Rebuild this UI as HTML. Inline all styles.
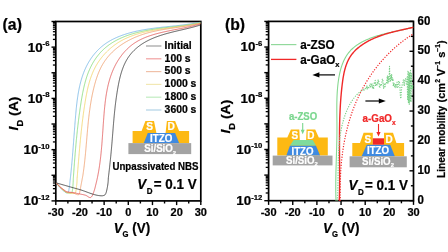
<!DOCTYPE html>
<html><head><meta charset="utf-8"><title>Figure</title>
<style>
html,body{margin:0;padding:0;background:#fff;}
body{width:448px;height:252px;overflow:hidden;}
svg{display:block;font-family:"Liberation Sans", sans-serif;font-weight:bold;}
text{stroke-width:0.22px;}
</style></head><body>
<svg width="448" height="252" viewBox="0 0 448 252">
<rect width="448" height="252" fill="#fff"/>
<rect x="55.8" y="21.5" width="145.0" height="179.4" fill="none" stroke="#000" stroke-width="1.7"/>
<line x1="55.80" y1="200.9" x2="55.80" y2="205.1" stroke="#000" stroke-width="1.4"/>
<line x1="67.88" y1="200.9" x2="67.88" y2="203.5" stroke="#000" stroke-width="1.4"/>
<line x1="79.97" y1="200.9" x2="79.97" y2="205.1" stroke="#000" stroke-width="1.4"/>
<line x1="92.05" y1="200.9" x2="92.05" y2="203.5" stroke="#000" stroke-width="1.4"/>
<line x1="104.13" y1="200.9" x2="104.13" y2="205.1" stroke="#000" stroke-width="1.4"/>
<line x1="116.22" y1="200.9" x2="116.22" y2="203.5" stroke="#000" stroke-width="1.4"/>
<line x1="128.30" y1="200.9" x2="128.30" y2="205.1" stroke="#000" stroke-width="1.4"/>
<line x1="140.38" y1="200.9" x2="140.38" y2="203.5" stroke="#000" stroke-width="1.4"/>
<line x1="152.47" y1="200.9" x2="152.47" y2="205.1" stroke="#000" stroke-width="1.4"/>
<line x1="164.55" y1="200.9" x2="164.55" y2="203.5" stroke="#000" stroke-width="1.4"/>
<line x1="176.63" y1="200.9" x2="176.63" y2="205.1" stroke="#000" stroke-width="1.4"/>
<line x1="188.72" y1="200.9" x2="188.72" y2="203.5" stroke="#000" stroke-width="1.4"/>
<line x1="200.80" y1="200.9" x2="200.80" y2="205.1" stroke="#000" stroke-width="1.4"/>
<line x1="55.8" y1="200.90" x2="51.5" y2="200.90" stroke="#000" stroke-width="1.4"/>
<line x1="55.8" y1="193.19" x2="52.9" y2="193.19" stroke="#000" stroke-width="1.3"/>
<line x1="55.8" y1="188.67" x2="52.9" y2="188.67" stroke="#000" stroke-width="1.3"/>
<line x1="55.8" y1="185.47" x2="52.9" y2="185.47" stroke="#000" stroke-width="1.3"/>
<line x1="55.8" y1="182.99" x2="52.9" y2="182.99" stroke="#000" stroke-width="1.3"/>
<line x1="55.8" y1="180.96" x2="52.9" y2="180.96" stroke="#000" stroke-width="1.3"/>
<line x1="55.8" y1="179.24" x2="52.9" y2="179.24" stroke="#000" stroke-width="1.3"/>
<line x1="55.8" y1="177.76" x2="52.9" y2="177.76" stroke="#000" stroke-width="1.3"/>
<line x1="55.8" y1="176.44" x2="52.9" y2="176.44" stroke="#000" stroke-width="1.3"/>
<line x1="55.8" y1="175.27" x2="51.5" y2="175.27" stroke="#000" stroke-width="1.4"/>
<line x1="55.8" y1="167.56" x2="52.9" y2="167.56" stroke="#000" stroke-width="1.3"/>
<line x1="55.8" y1="163.04" x2="52.9" y2="163.04" stroke="#000" stroke-width="1.3"/>
<line x1="55.8" y1="159.84" x2="52.9" y2="159.84" stroke="#000" stroke-width="1.3"/>
<line x1="55.8" y1="157.36" x2="52.9" y2="157.36" stroke="#000" stroke-width="1.3"/>
<line x1="55.8" y1="155.33" x2="52.9" y2="155.33" stroke="#000" stroke-width="1.3"/>
<line x1="55.8" y1="153.61" x2="52.9" y2="153.61" stroke="#000" stroke-width="1.3"/>
<line x1="55.8" y1="152.13" x2="52.9" y2="152.13" stroke="#000" stroke-width="1.3"/>
<line x1="55.8" y1="150.82" x2="52.9" y2="150.82" stroke="#000" stroke-width="1.3"/>
<line x1="55.8" y1="149.64" x2="51.5" y2="149.64" stroke="#000" stroke-width="1.4"/>
<line x1="55.8" y1="141.93" x2="52.9" y2="141.93" stroke="#000" stroke-width="1.3"/>
<line x1="55.8" y1="137.41" x2="52.9" y2="137.41" stroke="#000" stroke-width="1.3"/>
<line x1="55.8" y1="134.21" x2="52.9" y2="134.21" stroke="#000" stroke-width="1.3"/>
<line x1="55.8" y1="131.73" x2="52.9" y2="131.73" stroke="#000" stroke-width="1.3"/>
<line x1="55.8" y1="129.70" x2="52.9" y2="129.70" stroke="#000" stroke-width="1.3"/>
<line x1="55.8" y1="127.98" x2="52.9" y2="127.98" stroke="#000" stroke-width="1.3"/>
<line x1="55.8" y1="126.50" x2="52.9" y2="126.50" stroke="#000" stroke-width="1.3"/>
<line x1="55.8" y1="125.19" x2="52.9" y2="125.19" stroke="#000" stroke-width="1.3"/>
<line x1="55.8" y1="124.01" x2="51.5" y2="124.01" stroke="#000" stroke-width="1.4"/>
<line x1="55.8" y1="116.30" x2="52.9" y2="116.30" stroke="#000" stroke-width="1.3"/>
<line x1="55.8" y1="111.79" x2="52.9" y2="111.79" stroke="#000" stroke-width="1.3"/>
<line x1="55.8" y1="108.58" x2="52.9" y2="108.58" stroke="#000" stroke-width="1.3"/>
<line x1="55.8" y1="106.10" x2="52.9" y2="106.10" stroke="#000" stroke-width="1.3"/>
<line x1="55.8" y1="104.07" x2="52.9" y2="104.07" stroke="#000" stroke-width="1.3"/>
<line x1="55.8" y1="102.36" x2="52.9" y2="102.36" stroke="#000" stroke-width="1.3"/>
<line x1="55.8" y1="100.87" x2="52.9" y2="100.87" stroke="#000" stroke-width="1.3"/>
<line x1="55.8" y1="99.56" x2="52.9" y2="99.56" stroke="#000" stroke-width="1.3"/>
<line x1="55.8" y1="98.39" x2="51.5" y2="98.39" stroke="#000" stroke-width="1.4"/>
<line x1="55.8" y1="90.67" x2="52.9" y2="90.67" stroke="#000" stroke-width="1.3"/>
<line x1="55.8" y1="86.16" x2="52.9" y2="86.16" stroke="#000" stroke-width="1.3"/>
<line x1="55.8" y1="82.96" x2="52.9" y2="82.96" stroke="#000" stroke-width="1.3"/>
<line x1="55.8" y1="80.47" x2="52.9" y2="80.47" stroke="#000" stroke-width="1.3"/>
<line x1="55.8" y1="78.44" x2="52.9" y2="78.44" stroke="#000" stroke-width="1.3"/>
<line x1="55.8" y1="76.73" x2="52.9" y2="76.73" stroke="#000" stroke-width="1.3"/>
<line x1="55.8" y1="75.24" x2="52.9" y2="75.24" stroke="#000" stroke-width="1.3"/>
<line x1="55.8" y1="73.93" x2="52.9" y2="73.93" stroke="#000" stroke-width="1.3"/>
<line x1="55.8" y1="72.76" x2="51.5" y2="72.76" stroke="#000" stroke-width="1.4"/>
<line x1="55.8" y1="65.04" x2="52.9" y2="65.04" stroke="#000" stroke-width="1.3"/>
<line x1="55.8" y1="60.53" x2="52.9" y2="60.53" stroke="#000" stroke-width="1.3"/>
<line x1="55.8" y1="57.33" x2="52.9" y2="57.33" stroke="#000" stroke-width="1.3"/>
<line x1="55.8" y1="54.84" x2="52.9" y2="54.84" stroke="#000" stroke-width="1.3"/>
<line x1="55.8" y1="52.81" x2="52.9" y2="52.81" stroke="#000" stroke-width="1.3"/>
<line x1="55.8" y1="51.10" x2="52.9" y2="51.10" stroke="#000" stroke-width="1.3"/>
<line x1="55.8" y1="49.61" x2="52.9" y2="49.61" stroke="#000" stroke-width="1.3"/>
<line x1="55.8" y1="48.30" x2="52.9" y2="48.30" stroke="#000" stroke-width="1.3"/>
<line x1="55.8" y1="47.13" x2="51.5" y2="47.13" stroke="#000" stroke-width="1.4"/>
<line x1="55.8" y1="39.41" x2="52.9" y2="39.41" stroke="#000" stroke-width="1.3"/>
<line x1="55.8" y1="34.90" x2="52.9" y2="34.90" stroke="#000" stroke-width="1.3"/>
<line x1="55.8" y1="31.70" x2="52.9" y2="31.70" stroke="#000" stroke-width="1.3"/>
<line x1="55.8" y1="29.21" x2="52.9" y2="29.21" stroke="#000" stroke-width="1.3"/>
<line x1="55.8" y1="27.19" x2="52.9" y2="27.19" stroke="#000" stroke-width="1.3"/>
<line x1="55.8" y1="25.47" x2="52.9" y2="25.47" stroke="#000" stroke-width="1.3"/>
<line x1="55.8" y1="23.98" x2="52.9" y2="23.98" stroke="#000" stroke-width="1.3"/>
<line x1="55.8" y1="22.67" x2="52.9" y2="22.67" stroke="#000" stroke-width="1.3"/>
<line x1="55.8" y1="21.50" x2="51.5" y2="21.50" stroke="#000" stroke-width="1.4"/>
<clipPath id="ca"><rect x="55.8" y="21.5" width="145.0" height="179.4"/></clipPath>
<g clip-path="url(#ca)" fill="none" stroke-width="0.85" stroke-linejoin="round">
<path d="M56.30,182.90 L56.49,183.16 L56.68,183.42 L56.87,183.68 L57.07,183.94 L57.27,184.19 L57.46,184.45 L57.66,184.70 L57.86,184.95 L58.07,185.20 L58.27,185.45 L58.48,185.70 L58.68,185.94 L58.89,186.18 L59.10,186.43 L59.32,186.67 L59.53,186.91 L59.74,187.14 L59.96,187.38 L60.18,187.62 L60.39,187.85 L60.61,188.09 L60.83,188.32 L61.05,188.56 L61.27,188.80 L61.50,189.04 L61.72,189.28 L61.95,189.51 L62.18,189.74 L62.41,189.97 L62.65,190.19 L62.89,190.41 L63.13,190.61 L63.37,190.81 L63.63,191.01 L63.88,191.19 L64.14,191.36 L64.41,191.54 L64.69,191.74 L64.97,191.93 L65.26,192.11 L65.55,192.28 L65.85,192.43 L66.15,192.55 L66.45,192.64 L66.74,192.69 L67.04,192.69 L67.39,192.62 L67.73,192.50 L68.03,192.34 L68.22,192.18 L68.35,191.98 L68.46,191.74 L68.56,191.45 L68.64,191.13 L68.72,190.78 L68.79,190.43 L68.85,190.07 L68.91,189.71 L68.97,189.37 L69.03,189.05 L69.08,188.74 L69.14,188.43 L69.19,188.11 L69.25,187.80 L69.30,187.48 L69.35,187.16 L69.40,186.85 L69.45,186.53 L69.49,186.21 L69.54,185.89 L69.58,185.57 L69.62,185.25 L69.65,184.93 L69.69,184.61 L69.72,184.29 L69.74,183.97 L69.77,183.65 L69.78,183.32 L69.80,183.00 L69.86,182.47 L69.96,181.63 L70.06,180.79 L70.16,179.95 L70.26,179.11 L70.35,178.27 L70.44,177.43 L70.54,176.60 L70.63,175.76 L70.72,174.92 L70.81,174.09 L70.89,173.25 L70.98,172.41 L71.06,171.58 L71.15,170.74 L71.23,169.91 L71.31,169.08 L71.39,168.24 L71.47,167.41 L71.55,166.57 L71.63,165.74 L71.71,164.91 L71.78,164.07 L71.86,163.24 L71.93,162.41 L72.01,161.58 L72.08,160.74 L72.15,159.91 L72.22,159.08 L72.29,158.25 L72.36,157.41 L72.43,156.58 L72.50,155.75 L72.57,154.92 L72.64,154.08 L72.70,153.25 L72.77,152.42 L72.84,151.58 L72.90,150.75 L72.97,149.92 L73.03,149.08 L73.10,148.25 L73.16,147.42 L73.22,146.58 L73.29,145.75 L73.35,144.91 L73.42,144.08 L73.48,143.24 L73.54,142.40 L73.60,141.57 L73.67,140.73 L73.73,139.89 L73.79,139.06 L73.85,138.22 L73.92,137.38 L73.98,136.54 L74.04,135.70 L74.11,134.86 L74.17,134.02 L74.23,133.18 L74.29,132.34 L74.36,131.50 L74.42,130.65 L74.49,129.81 L74.55,128.97 L74.61,128.12 L74.68,127.28 L74.75,126.43 L74.81,125.58 L74.88,124.73 L74.94,123.89 L75.01,123.04 L75.08,122.19 L75.15,121.33 L75.22,120.48 L75.29,119.63 L75.36,118.78 L75.43,117.92 L75.50,117.07 L75.57,116.21 L75.64,115.35 L75.72,114.49 L75.79,113.63 L75.87,112.78 L75.95,111.92 L76.03,111.06 L76.11,110.19 L76.19,109.33 L76.28,108.47 L76.36,107.61 L76.45,106.75 L76.54,105.89 L76.64,105.03 L76.74,104.17 L76.84,103.31 L76.94,102.45 L77.04,101.59 L77.15,100.73 L77.26,99.88 L77.38,99.02 L77.50,98.16 L77.62,97.31 L77.75,96.46 L77.88,95.60 L78.01,94.75 L78.15,93.90 L78.30,93.06 L78.44,92.21 L78.60,91.36 L78.75,90.52 L78.92,89.68 L79.08,88.84 L79.25,88.00 L79.43,87.17 L79.62,86.33 L79.80,85.50 L80.00,84.68 L80.20,83.85 L80.41,83.03 L80.62,82.21 L80.84,81.39 L81.06,80.57 L81.29,79.76 L81.53,78.95 L81.78,78.14 L82.03,77.34 L82.29,76.54 L82.55,75.74 L82.83,74.95 L83.11,74.16 L83.40,73.38 L83.69,72.59 L84.00,71.82 L84.31,71.04 L84.63,70.27 L84.96,69.50 L85.30,68.74 L85.64,67.98 L86.00,67.23 L86.36,66.48 L86.73,65.73 L87.11,64.99 L87.50,64.26 L87.90,63.53 L88.31,62.80 L88.73,62.08 L89.16,61.37 L89.60,60.66 L90.04,59.95 L90.50,59.25 L90.96,58.56 L91.44,57.87 L91.92,57.19 L92.41,56.52 L92.91,55.85 L93.42,55.19 L93.94,54.54 L94.47,53.89 L95.00,53.26 L95.55,52.63 L96.10,52.00 L96.66,51.39 L97.24,50.78 L97.82,50.18 L98.40,49.59 L99.00,49.01 L99.61,48.44 L100.22,47.88 L100.84,47.32 L101.48,46.78 L102.12,46.24 L102.76,45.72 L103.42,45.20 L104.08,44.69 L104.76,44.20 L105.44,43.71 L106.13,43.24 L106.82,42.77 L107.53,42.32 L108.24,41.87 L108.95,41.44 L109.68,41.01 L110.41,40.59 L111.15,40.18 L111.89,39.78 L112.64,39.39 L113.39,39.01 L114.15,38.64 L114.92,38.27 L115.69,37.92 L116.47,37.57 L117.25,37.23 L118.03,36.90 L118.82,36.57 L119.61,36.25 L120.41,35.94 L121.21,35.64 L122.01,35.35 L122.81,35.06 L123.62,34.78 L124.43,34.51 L125.25,34.24 L126.06,33.98 L126.88,33.72 L127.70,33.48 L128.52,33.24 L129.34,33.00 L130.17,32.77 L130.99,32.55 L131.82,32.33 L132.64,32.12 L133.47,31.91 L134.30,31.71 L135.13,31.51 L135.96,31.32 L136.79,31.14 L137.63,30.96 L138.46,30.78 L139.29,30.61 L140.13,30.44 L140.96,30.28 L141.80,30.12 L142.64,29.96 L143.48,29.81 L144.32,29.66 L145.15,29.52 L145.99,29.38 L146.83,29.25 L147.68,29.11 L148.52,28.98 L149.36,28.86 L150.20,28.73 L151.04,28.61 L151.89,28.49 L152.73,28.38 L153.58,28.27 L154.42,28.16 L155.26,28.05 L156.11,27.94 L156.95,27.84 L157.80,27.74 L158.64,27.64 L159.49,27.54 L160.34,27.44 L161.18,27.34 L162.03,27.25 L162.87,27.15 L163.72,27.06 L164.56,26.97 L165.41,26.88 L166.26,26.79 L167.10,26.70 L167.95,26.61 L168.79,26.52 L169.64,26.43 L170.48,26.34 L171.33,26.25 L172.17,26.16 L173.01,26.07 L173.86,25.98 L174.70,25.89 L175.54,25.80 L176.39,25.71 L177.23,25.61 L178.07,25.52 L178.91,25.42 L179.75,25.33 L180.59,25.23 L181.43,25.13 L182.27,25.03 L183.10,24.92 L183.94,24.82 L184.78,24.71 L185.61,24.60 L186.45,24.49 L187.28,24.37 L188.12,24.25 L188.95,24.13 L189.78,24.01 L190.61,23.88 L191.44,23.76 L192.27,23.62 L193.10,23.49 L193.92,23.35 L194.75,23.21 L195.57,23.06 L196.40,22.91 L197.22,22.75 L198.04,22.60 L198.86,22.43 L199.68,22.27 L200.50,22.10" stroke="#78b8e6"/>
<path d="M56.30,182.90 L56.56,183.25 L56.83,183.59 L57.10,183.94 L57.37,184.28 L57.65,184.61 L57.93,184.95 L58.21,185.28 L58.49,185.61 L58.78,185.93 L59.07,186.25 L59.37,186.57 L59.66,186.89 L59.96,187.20 L60.26,187.51 L60.56,187.82 L60.87,188.12 L61.18,188.43 L61.50,188.73 L61.81,189.03 L62.14,189.32 L62.46,189.61 L62.79,189.90 L63.12,190.18 L63.46,190.46 L63.80,190.72 L64.14,190.99 L64.48,191.27 L64.83,191.57 L65.18,191.86 L65.54,192.14 L65.91,192.39 L66.28,192.60 L66.66,192.75 L67.06,192.83 L67.47,192.89 L67.90,192.94 L68.33,192.99 L68.78,193.03 L69.22,193.06 L69.67,193.09 L70.10,193.10 L70.54,193.08 L71.03,192.98 L71.47,192.82 L71.78,192.62 L71.94,192.39 L72.08,192.06 L72.19,191.67 L72.30,191.22 L72.38,190.74 L72.45,190.24 L72.52,189.74 L72.57,189.27 L72.62,188.83 L72.66,188.40 L72.71,187.98 L72.75,187.55 L72.80,187.12 L72.84,186.69 L72.88,186.26 L72.92,185.83 L72.96,185.40 L72.99,184.97 L73.03,184.54 L73.06,184.10 L73.09,183.67 L73.12,183.24 L73.15,182.81 L73.17,182.37 L73.20,181.94 L73.22,181.50 L73.24,181.07 L73.25,180.63 L73.27,180.19 L73.28,179.76 L73.29,179.32 L73.29,178.88 L73.30,178.44 L73.30,178.00 L73.39,177.41 L73.44,176.58 L73.50,175.76 L73.56,174.93 L73.62,174.11 L73.68,173.28 L73.74,172.46 L73.79,171.63 L73.85,170.81 L73.91,169.98 L73.97,169.16 L74.03,168.33 L74.09,167.51 L74.15,166.68 L74.21,165.86 L74.27,165.03 L74.34,164.21 L74.40,163.39 L74.46,162.56 L74.52,161.74 L74.59,160.91 L74.65,160.09 L74.71,159.27 L74.78,158.44 L74.84,157.62 L74.91,156.80 L74.97,155.97 L75.04,155.15 L75.11,154.33 L75.17,153.51 L75.24,152.68 L75.31,151.86 L75.38,151.04 L75.45,150.22 L75.52,149.39 L75.59,148.57 L75.66,147.75 L75.73,146.93 L75.81,146.10 L75.88,145.28 L75.95,144.46 L76.03,143.64 L76.11,142.81 L76.18,141.99 L76.26,141.17 L76.34,140.35 L76.42,139.52 L76.50,138.70 L76.58,137.88 L76.66,137.06 L76.74,136.23 L76.82,135.41 L76.91,134.59 L76.99,133.77 L77.08,132.94 L77.16,132.12 L77.25,131.30 L77.34,130.48 L77.43,129.65 L77.52,128.83 L77.61,128.01 L77.71,127.19 L77.80,126.36 L77.89,125.54 L77.99,124.72 L78.09,123.89 L78.19,123.07 L78.29,122.25 L78.39,121.42 L78.49,120.60 L78.59,119.77 L78.69,118.95 L78.80,118.13 L78.91,117.30 L79.01,116.48 L79.12,115.65 L79.23,114.83 L79.34,114.00 L79.46,113.18 L79.57,112.35 L79.69,111.53 L79.80,110.70 L79.92,109.88 L80.04,109.05 L80.16,108.23 L80.28,107.40 L80.41,106.57 L80.53,105.75 L80.66,104.92 L80.79,104.09 L80.91,103.27 L81.05,102.44 L81.18,101.61 L81.31,100.78 L81.45,99.96 L81.59,99.13 L81.73,98.30 L81.87,97.47 L82.01,96.65 L82.16,95.82 L82.31,95.00 L82.46,94.17 L82.62,93.35 L82.78,92.52 L82.94,91.70 L83.11,90.88 L83.28,90.06 L83.45,89.24 L83.63,88.42 L83.81,87.60 L84.00,86.79 L84.19,85.98 L84.39,85.17 L84.59,84.36 L84.80,83.55 L85.01,82.74 L85.23,81.94 L85.45,81.14 L85.68,80.34 L85.91,79.54 L86.15,78.75 L86.40,77.96 L86.65,77.17 L86.91,76.39 L87.18,75.60 L87.45,74.82 L87.74,74.05 L88.02,73.28 L88.32,72.51 L88.62,71.74 L88.94,70.98 L89.26,70.22 L89.58,69.46 L89.92,68.71 L90.26,67.97 L90.62,67.22 L90.98,66.48 L91.35,65.75 L91.73,65.02 L92.12,64.29 L92.52,63.57 L92.93,62.86 L93.34,62.15 L93.77,61.44 L94.21,60.74 L94.65,60.04 L95.11,59.36 L95.57,58.67 L96.04,58.00 L96.53,57.33 L97.02,56.66 L97.52,56.01 L98.03,55.36 L98.55,54.72 L99.07,54.08 L99.61,53.46 L100.15,52.84 L100.71,52.23 L101.27,51.63 L101.84,51.03 L102.42,50.45 L103.01,49.87 L103.61,49.31 L104.21,48.75 L104.83,48.20 L105.45,47.67 L106.08,47.14 L106.72,46.62 L107.36,46.11 L108.02,45.62 L108.68,45.13 L109.35,44.65 L110.02,44.17 L110.70,43.71 L111.39,43.26 L112.09,42.81 L112.79,42.38 L113.49,41.95 L114.21,41.53 L114.93,41.12 L115.65,40.72 L116.38,40.32 L117.11,39.94 L117.85,39.56 L118.60,39.19 L119.34,38.83 L120.10,38.48 L120.85,38.13 L121.61,37.79 L122.38,37.46 L123.14,37.13 L123.91,36.82 L124.69,36.51 L125.46,36.21 L126.24,35.91 L127.03,35.62 L127.81,35.34 L128.60,35.07 L129.38,34.80 L130.17,34.54 L130.97,34.29 L131.76,34.04 L132.55,33.80 L133.35,33.56 L134.15,33.33 L134.95,33.11 L135.75,32.89 L136.55,32.67 L137.36,32.47 L138.16,32.26 L138.97,32.07 L139.78,31.88 L140.59,31.69 L141.40,31.51 L142.21,31.33 L143.02,31.16 L143.83,30.99 L144.65,30.82 L145.46,30.66 L146.28,30.51 L147.10,30.35 L147.92,30.21 L148.74,30.06 L149.56,29.92 L150.38,29.78 L151.20,29.65 L152.02,29.52 L152.85,29.39 L153.67,29.26 L154.50,29.14 L155.32,29.02 L156.15,28.90 L156.97,28.78 L157.80,28.67 L158.63,28.56 L159.46,28.45 L160.28,28.34 L161.11,28.24 L161.94,28.13 L162.77,28.03 L163.60,27.93 L164.43,27.83 L165.26,27.73 L166.09,27.63 L166.92,27.53 L167.74,27.43 L168.57,27.34 L169.40,27.24 L170.23,27.15 L171.06,27.05 L171.89,26.95 L172.72,26.86 L173.55,26.76 L174.38,26.66 L175.20,26.57 L176.03,26.47 L176.86,26.37 L177.68,26.27 L178.51,26.17 L179.34,26.07 L180.16,25.97 L180.99,25.86 L181.81,25.76 L182.63,25.65 L183.46,25.54 L184.28,25.43 L185.10,25.31 L185.92,25.20 L186.74,25.08 L187.56,24.96 L188.37,24.84 L189.19,24.71 L190.00,24.58 L190.82,24.45 L191.63,24.32 L192.44,24.18 L193.26,24.04 L194.07,23.89 L194.87,23.74 L195.68,23.59 L196.49,23.44 L197.29,23.28 L198.10,23.11 L198.90,22.94 L199.70,22.77 L200.50,22.59" stroke="#86dc7a"/>
<path d="M56.30,182.90 L56.60,183.28 L56.90,183.66 L57.20,184.03 L57.51,184.40 L57.83,184.77 L58.14,185.13 L58.46,185.49 L58.79,185.85 L59.12,186.20 L59.45,186.54 L59.78,186.88 L60.12,187.22 L60.46,187.56 L60.81,187.89 L61.16,188.22 L61.51,188.54 L61.87,188.86 L62.24,189.18 L62.61,189.49 L62.98,189.80 L63.35,190.10 L63.73,190.39 L64.11,190.68 L64.50,190.98 L64.89,191.30 L65.28,191.60 L65.68,191.89 L66.09,192.15 L66.51,192.36 L66.93,192.51 L67.37,192.62 L67.82,192.73 L68.28,192.84 L68.75,192.94 L69.23,193.03 L69.71,193.11 L70.20,193.19 L70.69,193.25 L71.18,193.30 L71.67,193.35 L72.15,193.38 L72.64,193.40 L73.12,193.40 L73.66,193.38 L74.21,193.33 L74.69,193.27 L75.01,193.19 L75.22,193.03 L75.41,192.72 L75.57,192.31 L75.72,191.81 L75.84,191.25 L75.95,190.67 L76.05,190.08 L76.13,189.52 L76.20,189.01 L76.26,188.55 L76.33,188.07 L76.39,187.60 L76.45,187.13 L76.51,186.66 L76.57,186.19 L76.62,185.71 L76.67,185.24 L76.72,184.76 L76.77,184.29 L76.82,183.81 L76.86,183.33 L76.90,182.85 L76.93,182.37 L76.97,181.89 L77.00,181.41 L77.02,180.92 L77.05,180.44 L77.07,179.95 L77.08,179.47 L77.09,178.98 L77.10,178.49 L77.10,178.00 L77.23,176.85 L77.29,176.04 L77.36,175.23 L77.43,174.42 L77.49,173.61 L77.56,172.80 L77.63,171.99 L77.69,171.18 L77.76,170.36 L77.83,169.55 L77.89,168.74 L77.96,167.93 L78.03,167.12 L78.09,166.31 L78.16,165.50 L78.23,164.69 L78.29,163.88 L78.36,163.07 L78.43,162.26 L78.49,161.45 L78.56,160.64 L78.63,159.83 L78.70,159.02 L78.76,158.21 L78.83,157.40 L78.90,156.59 L78.97,155.78 L79.04,154.97 L79.11,154.16 L79.18,153.35 L79.25,152.54 L79.32,151.73 L79.39,150.92 L79.46,150.11 L79.53,149.30 L79.60,148.50 L79.67,147.69 L79.75,146.88 L79.82,146.07 L79.89,145.26 L79.97,144.45 L80.04,143.64 L80.12,142.83 L80.20,142.02 L80.27,141.21 L80.35,140.40 L80.43,139.59 L80.51,138.78 L80.59,137.97 L80.67,137.16 L80.75,136.36 L80.83,135.55 L80.91,134.74 L81.00,133.93 L81.08,133.12 L81.17,132.31 L81.25,131.50 L81.34,130.69 L81.43,129.89 L81.51,129.08 L81.60,128.27 L81.69,127.46 L81.79,126.65 L81.88,125.85 L81.97,125.04 L82.07,124.23 L82.16,123.42 L82.26,122.61 L82.36,121.81 L82.45,121.00 L82.55,120.19 L82.65,119.38 L82.76,118.58 L82.86,117.77 L82.96,116.96 L83.07,116.15 L83.18,115.35 L83.29,114.54 L83.39,113.73 L83.51,112.93 L83.62,112.12 L83.73,111.31 L83.85,110.51 L83.96,109.70 L84.08,108.89 L84.20,108.09 L84.32,107.28 L84.44,106.48 L84.56,105.67 L84.69,104.86 L84.81,104.06 L84.94,103.25 L85.07,102.45 L85.20,101.64 L85.33,100.84 L85.47,100.03 L85.60,99.23 L85.74,98.42 L85.88,97.62 L86.03,96.81 L86.17,96.01 L86.32,95.21 L86.47,94.41 L86.63,93.61 L86.79,92.81 L86.95,92.01 L87.11,91.22 L87.28,90.42 L87.46,89.63 L87.64,88.83 L87.82,88.04 L88.00,87.25 L88.20,86.46 L88.39,85.68 L88.60,84.89 L88.80,84.11 L89.02,83.33 L89.24,82.55 L89.46,81.78 L89.69,81.00 L89.93,80.23 L90.17,79.46 L90.42,78.70 L90.68,77.93 L90.94,77.17 L91.21,76.41 L91.49,75.66 L91.78,74.91 L92.07,74.16 L92.37,73.41 L92.68,72.67 L93.00,71.93 L93.32,71.19 L93.65,70.46 L94.00,69.73 L94.35,69.01 L94.71,68.28 L95.08,67.57 L95.46,66.85 L95.85,66.14 L96.24,65.44 L96.65,64.73 L97.07,64.04 L97.50,63.34 L97.94,62.66 L98.39,61.97 L98.84,61.29 L99.31,60.62 L99.78,59.95 L100.27,59.29 L100.76,58.63 L101.26,57.98 L101.77,57.33 L102.29,56.69 L102.82,56.06 L103.35,55.43 L103.89,54.81 L104.44,54.19 L105.00,53.58 L105.56,52.98 L106.14,52.39 L106.71,51.80 L107.30,51.22 L107.89,50.65 L108.49,50.08 L109.09,49.53 L109.70,48.98 L110.32,48.44 L110.94,47.90 L111.57,47.38 L112.20,46.86 L112.84,46.36 L113.48,45.86 L114.13,45.37 L114.79,44.88 L115.45,44.41 L116.12,43.95 L116.79,43.49 L117.46,43.05 L118.15,42.61 L118.83,42.18 L119.52,41.76 L120.22,41.35 L120.92,40.95 L121.62,40.56 L122.33,40.18 L123.04,39.80 L123.76,39.43 L124.48,39.07 L125.20,38.72 L125.93,38.38 L126.66,38.05 L127.39,37.72 L128.13,37.40 L128.87,37.08 L129.61,36.78 L130.36,36.48 L131.11,36.19 L131.86,35.90 L132.61,35.63 L133.37,35.36 L134.13,35.09 L134.89,34.83 L135.65,34.58 L136.42,34.33 L137.19,34.09 L137.96,33.86 L138.73,33.63 L139.51,33.41 L140.29,33.19 L141.06,32.98 L141.85,32.77 L142.63,32.57 L143.41,32.38 L144.20,32.18 L144.99,32.00 L145.78,31.81 L146.57,31.64 L147.36,31.46 L148.16,31.29 L148.96,31.13 L149.75,30.96 L150.55,30.81 L151.35,30.65 L152.16,30.50 L152.96,30.35 L153.76,30.21 L154.57,30.07 L155.37,29.93 L156.18,29.80 L156.99,29.66 L157.80,29.53 L158.61,29.41 L159.42,29.28 L160.23,29.16 L161.04,29.04 L161.86,28.92 L162.67,28.80 L163.48,28.69 L164.30,28.57 L165.11,28.46 L165.93,28.35 L166.74,28.24 L167.56,28.13 L168.37,28.03 L169.19,27.92 L170.00,27.81 L170.82,27.71 L171.63,27.60 L172.45,27.50 L173.27,27.39 L174.08,27.29 L174.90,27.18 L175.71,27.08 L176.52,26.97 L177.34,26.87 L178.15,26.76 L178.96,26.65 L179.78,26.54 L180.59,26.43 L181.40,26.32 L182.21,26.21 L183.02,26.10 L183.82,25.99 L184.63,25.87 L185.44,25.75 L186.24,25.63 L187.05,25.51 L187.85,25.38 L188.65,25.26 L189.45,25.13 L190.25,25.00 L191.05,24.86 L191.85,24.73 L192.64,24.59 L193.43,24.44 L194.23,24.30 L195.02,24.15 L195.81,23.99 L196.59,23.84 L197.38,23.68 L198.16,23.51 L198.94,23.34 L199.72,23.17 L200.50,22.99" stroke="#f2d46a"/>
<path d="M56.30,182.90 L56.66,183.35 L57.04,183.79 L57.41,184.23 L57.80,184.66 L58.18,185.09 L58.58,185.50 L58.98,185.92 L59.38,186.32 L59.79,186.72 L60.21,187.11 L60.63,187.50 L61.06,187.88 L61.49,188.25 L61.94,188.62 L62.38,188.98 L62.84,189.34 L63.30,189.69 L63.76,190.03 L64.22,190.37 L64.69,190.74 L65.15,191.11 L65.63,191.47 L66.12,191.78 L66.62,192.01 L67.13,192.15 L67.67,192.26 L68.22,192.35 L68.79,192.42 L69.37,192.48 L69.95,192.53 L70.54,192.58 L71.13,192.64 L71.71,192.70 L72.29,192.78 L72.85,192.87 L73.41,193.00 L73.96,193.19 L74.52,193.42 L75.07,193.67 L75.62,193.94 L76.16,194.19 L76.70,194.41 L77.23,194.58 L77.75,194.68 L78.28,194.68 L78.86,194.42 L79.28,194.04 L79.46,193.62 L79.60,193.11 L79.70,192.53 L79.79,191.91 L79.87,191.28 L79.97,190.68 L80.08,190.11 L80.19,189.55 L80.30,188.98 L80.41,188.42 L80.52,187.85 L80.63,187.29 L80.73,186.73 L80.84,186.16 L80.95,185.60 L81.06,185.03 L81.17,184.47 L81.28,183.91 L81.38,183.34 L81.49,182.78 L81.60,182.21 L81.70,181.65 L81.81,181.08 L81.92,180.52 L82.02,179.95 L82.13,179.39 L82.23,178.83 L82.34,178.26 L82.44,177.70 L82.54,177.13 L82.65,176.57 L82.75,176.00 L82.84,175.58 L82.96,174.80 L83.08,174.01 L83.19,173.22 L83.31,172.43 L83.42,171.63 L83.53,170.84 L83.64,170.05 L83.74,169.26 L83.85,168.47 L83.95,167.68 L84.05,166.88 L84.15,166.09 L84.24,165.30 L84.34,164.50 L84.43,163.71 L84.52,162.92 L84.61,162.12 L84.70,161.33 L84.78,160.53 L84.87,159.74 L84.95,158.94 L85.03,158.15 L85.11,157.35 L85.19,156.55 L85.27,155.76 L85.35,154.96 L85.42,154.17 L85.50,153.37 L85.57,152.57 L85.65,151.78 L85.72,150.98 L85.79,150.18 L85.86,149.39 L85.93,148.59 L86.00,147.79 L86.07,146.99 L86.14,146.20 L86.21,145.40 L86.28,144.60 L86.34,143.80 L86.41,143.01 L86.48,142.21 L86.55,141.41 L86.61,140.61 L86.68,139.82 L86.75,139.02 L86.81,138.22 L86.88,137.42 L86.95,136.63 L87.02,135.83 L87.08,135.03 L87.15,134.23 L87.22,133.44 L87.29,132.64 L87.36,131.84 L87.43,131.05 L87.50,130.25 L87.57,129.45 L87.65,128.66 L87.72,127.86 L87.79,127.06 L87.87,126.27 L87.95,125.47 L88.02,124.67 L88.10,123.88 L88.18,123.08 L88.26,122.29 L88.34,121.49 L88.43,120.70 L88.51,119.90 L88.60,119.11 L88.69,118.31 L88.78,117.52 L88.87,116.73 L88.96,115.93 L89.05,115.14 L89.15,114.35 L89.25,113.55 L89.35,112.76 L89.45,111.97 L89.55,111.18 L89.66,110.39 L89.77,109.60 L89.88,108.80 L89.99,108.01 L90.10,107.22 L90.22,106.44 L90.34,105.65 L90.46,104.86 L90.59,104.07 L90.71,103.28 L90.84,102.49 L90.98,101.71 L91.11,100.92 L91.25,100.13 L91.39,99.35 L91.53,98.56 L91.68,97.78 L91.83,96.99 L91.98,96.21 L92.14,95.42 L92.30,94.64 L92.46,93.86 L92.63,93.08 L92.79,92.30 L92.97,91.52 L93.14,90.73 L93.32,89.96 L93.50,89.18 L93.69,88.40 L93.88,87.62 L94.08,86.84 L94.27,86.07 L94.48,85.29 L94.68,84.51 L94.89,83.74 L95.11,82.97 L95.33,82.20 L95.55,81.43 L95.78,80.66 L96.02,79.89 L96.26,79.13 L96.51,78.37 L96.76,77.61 L97.02,76.85 L97.28,76.10 L97.56,75.35 L97.83,74.60 L98.12,73.86 L98.41,73.12 L98.71,72.38 L99.02,71.65 L99.33,70.92 L99.66,70.19 L99.99,69.47 L100.33,68.75 L100.67,68.04 L101.03,67.33 L101.39,66.63 L101.77,65.93 L102.15,65.24 L102.54,64.55 L102.95,63.87 L103.36,63.20 L103.78,62.53 L104.21,61.86 L104.65,61.20 L105.09,60.55 L105.55,59.91 L106.02,59.27 L106.49,58.64 L106.98,58.01 L107.47,57.39 L107.97,56.78 L108.48,56.17 L109.00,55.58 L109.53,54.98 L110.06,54.40 L110.60,53.82 L111.15,53.25 L111.71,52.69 L112.28,52.14 L112.85,51.59 L113.43,51.05 L114.02,50.51 L114.62,49.98 L115.22,49.46 L115.83,48.95 L116.44,48.44 L117.06,47.94 L117.69,47.45 L118.33,46.96 L118.97,46.48 L119.61,46.01 L120.26,45.54 L120.92,45.09 L121.58,44.63 L122.25,44.19 L122.92,43.75 L123.60,43.32 L124.29,42.89 L124.97,42.48 L125.67,42.07 L126.36,41.66 L127.06,41.27 L127.77,40.87 L128.48,40.49 L129.19,40.11 L129.91,39.74 L130.63,39.38 L131.36,39.02 L132.08,38.67 L132.82,38.33 L133.55,38.00 L134.29,37.67 L135.03,37.34 L135.77,37.03 L136.51,36.72 L137.26,36.41 L138.01,36.12 L138.76,35.83 L139.51,35.54 L140.27,35.27 L141.03,35.00 L141.79,34.74 L142.54,34.48 L143.31,34.23 L144.07,33.99 L144.83,33.75 L145.60,33.52 L146.36,33.29 L147.13,33.07 L147.90,32.86 L148.67,32.65 L149.44,32.45 L150.21,32.25 L150.98,32.06 L151.75,31.87 L152.53,31.68 L153.30,31.51 L154.08,31.33 L154.86,31.16 L155.63,31.00 L156.41,30.83 L157.19,30.68 L157.97,30.52 L158.75,30.37 L159.54,30.22 L160.32,30.08 L161.10,29.94 L161.88,29.80 L162.67,29.66 L163.45,29.53 L164.24,29.40 L165.03,29.27 L165.81,29.14 L166.60,29.02 L167.39,28.90 L168.17,28.78 L168.96,28.66 L169.75,28.54 L170.54,28.42 L171.33,28.31 L172.12,28.19 L172.91,28.08 L173.70,27.96 L174.49,27.85 L175.28,27.74 L176.07,27.63 L176.86,27.51 L177.65,27.40 L178.44,27.29 L179.23,27.17 L180.02,27.06 L180.81,26.95 L181.60,26.83 L182.39,26.71 L183.18,26.60 L183.98,26.48 L184.77,26.36 L185.56,26.23 L186.35,26.11 L187.14,25.98 L187.92,25.86 L188.71,25.73 L189.50,25.59 L190.29,25.46 L191.08,25.32 L191.87,25.18 L192.65,25.04 L193.44,24.89 L194.23,24.74 L195.01,24.58 L195.80,24.43 L196.58,24.27 L197.37,24.10 L198.15,23.93 L198.94,23.76 L199.72,23.58 L200.50,23.40" stroke="#f0a070"/>
<path d="M56.30,182.90 L56.71,183.39 L57.13,183.88 L57.56,184.36 L58.00,184.82 L58.45,185.28 L58.90,185.74 L59.35,186.18 L59.82,186.61 L60.29,187.04 L60.77,187.46 L61.26,187.86 L61.76,188.26 L62.26,188.65 L62.78,189.04 L63.29,189.42 L63.81,189.79 L64.33,190.17 L64.85,190.58 L65.38,190.99 L65.91,191.36 L66.46,191.65 L67.03,191.83 L67.62,191.95 L68.24,192.06 L68.86,192.14 L69.50,192.21 L70.15,192.28 L70.80,192.34 L71.46,192.40 L72.10,192.48 L72.74,192.56 L73.37,192.66 L74.00,192.77 L74.63,192.89 L75.26,193.01 L75.88,193.14 L76.51,193.27 L77.13,193.41 L77.76,193.54 L78.38,193.68 L79.00,193.82 L79.63,193.95 L80.26,194.07 L80.89,194.20 L81.52,194.32 L82.16,194.44 L82.79,194.57 L83.41,194.70 L84.04,194.84 L84.65,195.00 L85.26,195.16 L85.85,195.35 L86.45,195.63 L87.03,195.98 L87.61,196.36 L88.19,196.75 L88.75,197.11 L89.31,197.39 L89.85,197.56 L90.39,197.58 L90.94,197.30 L91.47,196.83 L91.92,196.31 L92.25,195.82 L92.54,195.27 L92.80,194.67 L93.03,194.05 L93.25,193.42 L93.47,192.82 L93.68,192.22 L93.89,191.62 L94.09,191.01 L94.29,190.41 L94.48,189.80 L94.66,189.19 L94.84,188.57 L95.00,187.95 L95.16,187.33 L95.30,186.70 L95.55,185.63 L95.74,184.89 L95.93,184.15 L96.11,183.41 L96.29,182.67 L96.47,181.92 L96.65,181.18 L96.81,180.44 L96.98,179.69 L97.14,178.95 L97.30,178.21 L97.46,177.46 L97.61,176.72 L97.76,175.97 L97.91,175.23 L98.05,174.48 L98.19,173.73 L98.33,172.99 L98.47,172.24 L98.60,171.49 L98.73,170.75 L98.85,170.00 L98.98,169.25 L99.10,168.50 L99.22,167.75 L99.33,167.00 L99.44,166.25 L99.56,165.50 L99.66,164.75 L99.77,164.00 L99.87,163.25 L99.97,162.50 L100.07,161.74 L100.17,160.99 L100.26,160.24 L100.36,159.49 L100.45,158.73 L100.54,157.98 L100.62,157.22 L100.71,156.47 L100.79,155.71 L100.87,154.96 L100.95,154.20 L101.03,153.44 L101.11,152.69 L101.18,151.93 L101.26,151.17 L101.33,150.42 L101.40,149.66 L101.47,148.90 L101.54,148.14 L101.60,147.38 L101.67,146.62 L101.73,145.86 L101.80,145.10 L101.86,144.34 L101.92,143.58 L101.98,142.82 L102.04,142.05 L102.10,141.29 L102.15,140.53 L102.21,139.76 L102.27,139.00 L102.32,138.24 L102.38,137.47 L102.43,136.71 L102.49,135.94 L102.54,135.18 L102.60,134.41 L102.65,133.64 L102.70,132.88 L102.75,132.11 L102.81,131.34 L102.86,130.57 L102.91,129.81 L102.96,129.04 L103.02,128.27 L103.07,127.50 L103.12,126.73 L103.17,125.96 L103.23,125.19 L103.28,124.42 L103.33,123.65 L103.39,122.87 L103.44,122.10 L103.50,121.33 L103.55,120.56 L103.61,119.78 L103.66,119.01 L103.72,118.23 L103.78,117.46 L103.84,116.68 L103.90,115.91 L103.96,115.13 L104.02,114.36 L104.08,113.58 L104.15,112.80 L104.21,112.03 L104.28,111.25 L104.35,110.47 L104.42,109.70 L104.49,108.92 L104.57,108.15 L104.64,107.37 L104.72,106.59 L104.80,105.82 L104.88,105.04 L104.97,104.27 L105.05,103.50 L105.14,102.72 L105.24,101.95 L105.33,101.18 L105.43,100.41 L105.53,99.63 L105.63,98.86 L105.74,98.10 L105.85,97.33 L105.96,96.56 L106.08,95.79 L106.20,95.03 L106.32,94.26 L106.45,93.50 L106.58,92.74 L106.72,91.98 L106.86,91.22 L107.00,90.46 L107.15,89.71 L107.30,88.95 L107.45,88.20 L107.61,87.45 L107.78,86.70 L107.95,85.95 L108.12,85.20 L108.30,84.46 L108.49,83.72 L108.67,82.97 L108.87,82.24 L109.07,81.50 L109.27,80.76 L109.48,80.03 L109.70,79.30 L109.92,78.57 L110.15,77.85 L110.38,77.12 L110.62,76.40 L110.86,75.68 L111.11,74.97 L111.37,74.25 L111.63,73.54 L111.90,72.83 L112.18,72.13 L112.46,71.43 L112.75,70.73 L113.04,70.03 L113.35,69.33 L113.66,68.64 L113.97,67.96 L114.30,67.27 L114.63,66.59 L114.97,65.91 L115.31,65.23 L115.67,64.56 L116.03,63.89 L116.39,63.23 L116.77,62.57 L117.15,61.91 L117.55,61.25 L117.95,60.60 L118.35,59.96 L118.77,59.32 L119.19,58.68 L119.62,58.05 L120.05,57.42 L120.50,56.80 L120.95,56.19 L121.41,55.57 L121.87,54.97 L122.34,54.37 L122.82,53.78 L123.31,53.19 L123.81,52.61 L124.31,52.04 L124.82,51.47 L125.33,50.91 L125.86,50.36 L126.39,49.82 L126.92,49.28 L127.47,48.75 L128.02,48.23 L128.58,47.71 L129.14,47.21 L129.71,46.71 L130.29,46.22 L130.88,45.74 L131.47,45.27 L132.07,44.81 L132.67,44.35 L133.28,43.91 L133.90,43.48 L134.53,43.05 L135.16,42.64 L135.80,42.23 L136.44,41.83 L137.09,41.45 L137.75,41.07 L138.41,40.70 L139.08,40.34 L139.75,39.99 L140.43,39.64 L141.11,39.31 L141.80,38.98 L142.49,38.66 L143.19,38.35 L143.89,38.04 L144.59,37.74 L145.30,37.45 L146.01,37.17 L146.73,36.89 L147.45,36.62 L148.17,36.35 L148.90,36.09 L149.63,35.84 L150.36,35.59 L151.10,35.35 L151.84,35.12 L152.58,34.89 L153.32,34.66 L154.06,34.44 L154.81,34.22 L155.56,34.01 L156.31,33.81 L157.06,33.60 L157.81,33.41 L158.56,33.21 L159.31,33.02 L160.07,32.83 L160.82,32.65 L161.58,32.47 L162.34,32.29 L163.09,32.12 L163.85,31.95 L164.61,31.78 L165.37,31.61 L166.12,31.45 L166.88,31.29 L167.64,31.13 L168.40,30.97 L169.16,30.82 L169.92,30.66 L170.67,30.51 L171.43,30.36 L172.19,30.21 L172.95,30.06 L173.71,29.91 L174.46,29.76 L175.22,29.62 L175.98,29.47 L176.74,29.32 L177.49,29.18 L178.25,29.03 L179.00,28.89 L179.76,28.74 L180.51,28.59 L181.27,28.44 L182.02,28.30 L182.77,28.15 L183.53,28.00 L184.28,27.85 L185.03,27.69 L185.78,27.54 L186.52,27.38 L187.27,27.22 L188.02,27.06 L188.76,26.90 L189.51,26.74 L190.25,26.57 L190.99,26.40 L191.73,26.23 L192.47,26.05 L193.21,25.88 L193.94,25.69 L194.68,25.51 L195.41,25.32 L196.14,25.13 L196.87,24.94 L197.60,24.74 L198.33,24.53 L199.05,24.33 L199.78,24.11 L200.50,23.90" stroke="#e25a5a"/>
<path d="M56.30,182.90 L57.13,183.14 L57.95,183.38 L58.78,183.62 L59.60,183.85 L60.43,184.09 L61.25,184.33 L62.08,184.57 L62.91,184.80 L63.73,185.04 L64.56,185.28 L65.38,185.51 L66.21,185.75 L67.04,185.99 L67.86,186.22 L68.69,186.46 L69.51,186.70 L70.34,186.93 L71.17,187.17 L71.99,187.40 L72.82,187.64 L73.65,187.87 L74.47,188.11 L75.30,188.34 L76.13,188.57 L76.95,188.81 L77.78,189.04 L78.61,189.28 L79.43,189.51 L80.26,189.75 L81.09,190.01 L81.92,190.28 L82.74,190.56 L83.57,190.85 L84.40,191.14 L85.23,191.45 L86.06,191.75 L86.88,192.06 L87.71,192.37 L88.54,192.67 L89.37,192.97 L90.20,193.27 L91.02,193.56 L91.85,193.84 L92.68,194.11 L93.51,194.36 L94.34,194.60 L95.16,194.83 L95.99,195.03 L96.82,195.22 L97.65,195.38 L98.48,195.52 L99.30,195.63 L100.13,195.72 L100.96,195.77 L101.78,195.80 L102.65,195.75 L103.58,195.54 L104.40,195.22 L104.97,194.86 L105.41,194.29 L105.80,193.51 L106.14,192.62 L106.41,191.68 L106.64,190.78 L106.82,189.96 L106.99,189.13 L107.16,188.31 L107.32,187.48 L107.47,186.65 L107.61,185.81 L107.74,184.96 L107.86,184.11 L107.97,183.26 L108.07,182.40 L108.15,181.53 L108.21,180.66 L108.26,179.78 L108.29,178.89 L108.30,178.00 L108.38,177.54 L108.47,176.82 L108.56,176.10 L108.64,175.38 L108.73,174.66 L108.82,173.94 L108.90,173.22 L108.99,172.49 L109.07,171.77 L109.16,171.05 L109.24,170.33 L109.32,169.61 L109.40,168.89 L109.49,168.16 L109.57,167.44 L109.65,166.72 L109.73,166.00 L109.81,165.28 L109.89,164.55 L109.96,163.83 L110.04,163.11 L110.12,162.39 L110.19,161.67 L110.27,160.94 L110.35,160.22 L110.42,159.50 L110.49,158.78 L110.57,158.06 L110.64,157.33 L110.71,156.61 L110.78,155.89 L110.85,155.17 L110.92,154.45 L110.99,153.73 L111.06,153.00 L111.13,152.28 L111.20,151.56 L111.26,150.84 L111.33,150.12 L111.40,149.40 L111.46,148.68 L111.52,147.96 L111.59,147.24 L111.65,146.52 L111.71,145.79 L111.78,145.07 L111.84,144.35 L111.90,143.63 L111.96,142.91 L112.02,142.19 L112.08,141.47 L112.13,140.75 L112.19,140.03 L112.25,139.32 L112.31,138.60 L112.37,137.88 L112.42,137.16 L112.48,136.44 L112.54,135.72 L112.60,135.00 L112.65,134.28 L112.71,133.56 L112.77,132.84 L112.82,132.12 L112.88,131.40 L112.94,130.69 L112.99,129.97 L113.05,129.25 L113.11,128.53 L113.17,127.81 L113.23,127.09 L113.28,126.37 L113.34,125.65 L113.40,124.94 L113.46,124.22 L113.52,123.50 L113.58,122.78 L113.64,122.06 L113.71,121.34 L113.77,120.62 L113.83,119.90 L113.90,119.18 L113.96,118.46 L114.02,117.75 L114.09,117.03 L114.16,116.31 L114.23,115.59 L114.29,114.87 L114.36,114.15 L114.43,113.43 L114.50,112.71 L114.58,111.99 L114.65,111.27 L114.73,110.55 L114.80,109.83 L114.88,109.11 L114.96,108.39 L115.04,107.67 L115.12,106.95 L115.20,106.23 L115.28,105.51 L115.37,104.79 L115.45,104.07 L115.54,103.35 L115.63,102.63 L115.72,101.90 L115.81,101.18 L115.91,100.46 L116.00,99.74 L116.10,99.02 L116.20,98.30 L116.30,97.57 L116.40,96.85 L116.51,96.13 L116.61,95.41 L116.72,94.68 L116.83,93.96 L116.94,93.24 L117.06,92.51 L117.17,91.79 L117.29,91.06 L117.41,90.34 L117.53,89.62 L117.66,88.89 L117.78,88.17 L117.91,87.44 L118.04,86.72 L118.18,85.99 L118.31,85.27 L118.45,84.54 L118.59,83.81 L118.74,83.09 L118.89,82.37 L119.04,81.64 L119.19,80.92 L119.35,80.20 L119.52,79.48 L119.68,78.76 L119.85,78.04 L120.03,77.33 L120.21,76.61 L120.39,75.90 L120.58,75.19 L120.78,74.49 L120.98,73.78 L121.19,73.08 L121.40,72.38 L121.62,71.68 L121.84,70.99 L122.07,70.30 L122.30,69.61 L122.55,68.93 L122.80,68.25 L123.05,67.58 L123.32,66.90 L123.59,66.24 L123.86,65.57 L124.15,64.91 L124.44,64.26 L124.75,63.61 L125.05,62.97 L125.37,62.33 L125.70,61.69 L126.03,61.07 L126.38,60.44 L126.73,59.83 L127.09,59.22 L127.46,58.61 L127.84,58.01 L128.23,57.42 L128.63,56.83 L129.04,56.25 L129.46,55.68 L129.89,55.11 L130.33,54.55 L130.77,54.00 L131.23,53.46 L131.70,52.92 L132.17,52.38 L132.65,51.86 L133.14,51.34 L133.64,50.83 L134.15,50.32 L134.66,49.83 L135.18,49.34 L135.71,48.85 L136.25,48.38 L136.79,47.91 L137.35,47.45 L137.90,46.99 L138.47,46.54 L139.04,46.10 L139.62,45.67 L140.20,45.25 L140.80,44.83 L141.39,44.42 L141.99,44.02 L142.60,43.62 L143.22,43.24 L143.83,42.86 L144.46,42.48 L145.09,42.12 L145.72,41.76 L146.36,41.41 L147.00,41.07 L147.65,40.73 L148.30,40.40 L148.95,40.08 L149.61,39.76 L150.27,39.45 L150.94,39.14 L151.61,38.84 L152.28,38.55 L152.95,38.26 L153.62,37.98 L154.30,37.71 L154.98,37.44 L155.66,37.17 L156.35,36.91 L157.03,36.66 L157.72,36.41 L158.40,36.17 L159.09,35.93 L159.78,35.69 L160.48,35.46 L161.17,35.24 L161.86,35.01 L162.56,34.80 L163.25,34.58 L163.95,34.37 L164.65,34.16 L165.35,33.96 L166.05,33.76 L166.75,33.56 L167.45,33.37 L168.16,33.18 L168.86,32.99 L169.56,32.80 L170.27,32.62 L170.98,32.44 L171.68,32.26 L172.39,32.08 L173.10,31.91 L173.80,31.73 L174.51,31.56 L175.22,31.39 L175.93,31.22 L176.64,31.06 L177.34,30.89 L178.05,30.72 L178.76,30.56 L179.47,30.39 L180.18,30.23 L180.89,30.06 L181.60,29.90 L182.30,29.74 L183.01,29.57 L183.72,29.41 L184.43,29.24 L185.13,29.08 L185.84,28.91 L186.55,28.74 L187.25,28.57 L187.96,28.41 L188.66,28.23 L189.37,28.06 L190.07,27.89 L190.77,27.71 L191.47,27.54 L192.17,27.36 L192.87,27.18 L193.57,26.99 L194.27,26.81 L194.97,26.62 L195.66,26.43 L196.36,26.23 L197.05,26.03 L197.74,25.83 L198.43,25.63 L199.12,25.42 L199.81,25.21 L200.50,25.00" stroke="#3a3a3a"/>
</g>
<text transform="translate(55.80,216.0) scale(1.0,1.06)" font-size="11.0" text-anchor="middle" fill="#000"  stroke="#000">-30</text>
<text transform="translate(79.97,216.0) scale(1.0,1.06)" font-size="11.0" text-anchor="middle" fill="#000"  stroke="#000">-20</text>
<text transform="translate(104.13,216.0) scale(1.0,1.06)" font-size="11.0" text-anchor="middle" fill="#000"  stroke="#000">-10</text>
<text transform="translate(128.30,216.0) scale(1.0,1.06)" font-size="11.0" text-anchor="middle" fill="#000"  stroke="#000">0</text>
<text transform="translate(152.47,216.0) scale(1.0,1.06)" font-size="11.0" text-anchor="middle" fill="#000"  stroke="#000">10</text>
<text transform="translate(176.63,216.0) scale(1.0,1.06)" font-size="11.0" text-anchor="middle" fill="#000"  stroke="#000">20</text>
<text transform="translate(200.80,216.0) scale(1.0,1.06)" font-size="11.0" text-anchor="middle" fill="#000"  stroke="#000">30</text>
<text transform="translate(49.5,51.53) scale(1.03,1.0)" font-size="13.0" text-anchor="end" stroke="#000">10<tspan font-size="7.5" dy="-5.5">-6</tspan></text>
<text transform="translate(49.5,102.79) scale(1.03,1.0)" font-size="13.0" text-anchor="end" stroke="#000">10<tspan font-size="7.5" dy="-5.5">-8</tspan></text>
<text transform="translate(49.5,154.04) scale(1.03,1.0)" font-size="13.0" text-anchor="end" stroke="#000">10<tspan font-size="7.5" dy="-5.5">-10</tspan></text>
<text transform="translate(49.5,205.30) scale(1.03,1.0)" font-size="13.0" text-anchor="end" stroke="#000">10<tspan font-size="7.5" dy="-5.5">-12</tspan></text>
<text transform="translate(2.6,30.2) scale(1.0,1.06)" font-size="15.8" text-anchor="start" fill="#000"  stroke="#000">(a)</text>
<text transform="translate(224.9,30.2) scale(1.0,1.06)" font-size="15.8" text-anchor="start" fill="#000"  stroke="#000">(b)</text>
<text transform="translate(131.9,232.5) scale(1,1.08)" font-size="13.4" text-anchor="middle" stroke="#000"><tspan font-style="italic">V</tspan><tspan font-size="7.7" dy="4.5">G</tspan><tspan dy="-4.5"> (V)</tspan></text>
<text transform="translate(18.3,113.5) rotate(-90) scale(1.05,1)" font-size="13.4" text-anchor="middle" stroke="#000"><tspan font-style="italic">I</tspan><tspan font-size="8.8" dy="4.4">D</tspan><tspan dy="-4.4"> (A)</tspan></text>
<line x1="146" y1="46.00" x2="161.4" y2="46.00" stroke="#a0a0a0" stroke-width="1.2"/>
<text transform="translate(164.6,48.70) scale(1.03,1.06)" font-size="10.1" text-anchor="start" fill="#000"  stroke="#000">Initial</text>
<line x1="146" y1="58.80" x2="161.4" y2="58.80" stroke="#f2a0a0" stroke-width="1.2"/>
<text transform="translate(164.6,61.50) scale(1.03,1.06)" font-size="10.1" text-anchor="start" fill="#000"  stroke="#000">100 s</text>
<line x1="146" y1="71.60" x2="161.4" y2="71.60" stroke="#f0c0a8" stroke-width="1.2"/>
<text transform="translate(164.6,74.30) scale(1.03,1.06)" font-size="10.1" text-anchor="start" fill="#000"  stroke="#000">500 s</text>
<line x1="146" y1="84.40" x2="161.4" y2="84.40" stroke="#f2e8b4" stroke-width="1.2"/>
<text transform="translate(164.6,87.10) scale(1.03,1.06)" font-size="10.1" text-anchor="start" fill="#000"  stroke="#000">1000 s</text>
<line x1="146" y1="97.20" x2="161.4" y2="97.20" stroke="#c0ecc0" stroke-width="1.2"/>
<text transform="translate(164.6,99.90) scale(1.03,1.06)" font-size="10.1" text-anchor="start" fill="#000"  stroke="#000">1800 s</text>
<line x1="146" y1="110.00" x2="161.4" y2="110.00" stroke="#b0d2e6" stroke-width="1.2"/>
<text transform="translate(164.6,112.70) scale(1.03,1.06)" font-size="10.1" text-anchor="start" fill="#000"  stroke="#000">3600 s</text>
<path d="M132.6,143.1 L132.6,131.1 L141.6,131.1 L145.4,121.0 L154.0,121.0 L156.5,133.5 L165.5,133.5 L166.9,121.0 L175.1,121.0 L179.1,131.1 L189.1,131.1 L189.1,143.1 Z" fill="#fdb913"/>
<path d="M143.8,143.1 L147.8,133.0 L175.1,133.0 L179.1,143.1 Z" fill="#3f8ae0"/>
<rect x="128.4" y="143.1" width="62.79999999999998" height="11.0" fill="#a3a3a3"/>
<text transform="translate(149.6,130.0) scale(1.0,1.06)" font-size="10.2" text-anchor="middle" fill="#fff"  stroke="#fff">S</text>
<text transform="translate(171.2,130.0) scale(1.0,1.06)" font-size="10.2" text-anchor="middle" fill="#fff"  stroke="#fff">D</text>
<text transform="translate(161.2,142.1) scale(1.0,1.06)" font-size="9.8" text-anchor="middle" fill="#fff"  stroke="#fff">ITZO</text>
<text transform="translate(160.2,152.4) scale(1,1.06)" font-size="9.7" text-anchor="middle" fill="#fff" stroke="#fff">Si/SiO<tspan font-size="5.8" dy="2.0">2</tspan></text>
<text transform="translate(155.5,170.3) scale(1.0,1.06)" font-size="9.7" text-anchor="middle" fill="#000"  stroke="#000">Unpassivated NBS</text>
<text transform="translate(137.3,189.0) scale(1,1.08)" font-size="13.4" text-anchor="start" font-style="italic" stroke="#000">V</text><text transform="translate(146.70000000000002,194.0) scale(1,1.05)" font-size="8" text-anchor="start" stroke="#000">D</text><text transform="translate(196.60000000000002,189.0) scale(1,1.08)" font-size="13.4" text-anchor="end" stroke="#000">= 0.1 V</text>
<rect x="268.6" y="21.4" width="144.89999999999998" height="179.29999999999998" fill="none" stroke="#000" stroke-width="1.7"/>
<line x1="268.60" y1="200.7" x2="268.60" y2="204.89999999999998" stroke="#000" stroke-width="1.4"/>
<line x1="280.68" y1="200.7" x2="280.68" y2="203.29999999999998" stroke="#000" stroke-width="1.4"/>
<line x1="292.75" y1="200.7" x2="292.75" y2="204.89999999999998" stroke="#000" stroke-width="1.4"/>
<line x1="304.83" y1="200.7" x2="304.83" y2="203.29999999999998" stroke="#000" stroke-width="1.4"/>
<line x1="316.90" y1="200.7" x2="316.90" y2="204.89999999999998" stroke="#000" stroke-width="1.4"/>
<line x1="328.98" y1="200.7" x2="328.98" y2="203.29999999999998" stroke="#000" stroke-width="1.4"/>
<line x1="341.05" y1="200.7" x2="341.05" y2="204.89999999999998" stroke="#000" stroke-width="1.4"/>
<line x1="353.12" y1="200.7" x2="353.12" y2="203.29999999999998" stroke="#000" stroke-width="1.4"/>
<line x1="365.20" y1="200.7" x2="365.20" y2="204.89999999999998" stroke="#000" stroke-width="1.4"/>
<line x1="377.27" y1="200.7" x2="377.27" y2="203.29999999999998" stroke="#000" stroke-width="1.4"/>
<line x1="389.35" y1="200.7" x2="389.35" y2="204.89999999999998" stroke="#000" stroke-width="1.4"/>
<line x1="401.42" y1="200.7" x2="401.42" y2="203.29999999999998" stroke="#000" stroke-width="1.4"/>
<line x1="413.50" y1="200.7" x2="413.50" y2="204.89999999999998" stroke="#000" stroke-width="1.4"/>
<line x1="268.6" y1="200.70" x2="264.3" y2="200.70" stroke="#000" stroke-width="1.4"/>
<line x1="268.6" y1="192.99" x2="265.70000000000005" y2="192.99" stroke="#000" stroke-width="1.3"/>
<line x1="268.6" y1="188.48" x2="265.70000000000005" y2="188.48" stroke="#000" stroke-width="1.3"/>
<line x1="268.6" y1="185.28" x2="265.70000000000005" y2="185.28" stroke="#000" stroke-width="1.3"/>
<line x1="268.6" y1="182.80" x2="265.70000000000005" y2="182.80" stroke="#000" stroke-width="1.3"/>
<line x1="268.6" y1="180.77" x2="265.70000000000005" y2="180.77" stroke="#000" stroke-width="1.3"/>
<line x1="268.6" y1="179.05" x2="265.70000000000005" y2="179.05" stroke="#000" stroke-width="1.3"/>
<line x1="268.6" y1="177.57" x2="265.70000000000005" y2="177.57" stroke="#000" stroke-width="1.3"/>
<line x1="268.6" y1="176.26" x2="265.70000000000005" y2="176.26" stroke="#000" stroke-width="1.3"/>
<line x1="268.6" y1="175.09" x2="264.3" y2="175.09" stroke="#000" stroke-width="1.4"/>
<line x1="268.6" y1="167.38" x2="265.70000000000005" y2="167.38" stroke="#000" stroke-width="1.3"/>
<line x1="268.6" y1="162.86" x2="265.70000000000005" y2="162.86" stroke="#000" stroke-width="1.3"/>
<line x1="268.6" y1="159.66" x2="265.70000000000005" y2="159.66" stroke="#000" stroke-width="1.3"/>
<line x1="268.6" y1="157.18" x2="265.70000000000005" y2="157.18" stroke="#000" stroke-width="1.3"/>
<line x1="268.6" y1="155.15" x2="265.70000000000005" y2="155.15" stroke="#000" stroke-width="1.3"/>
<line x1="268.6" y1="153.44" x2="265.70000000000005" y2="153.44" stroke="#000" stroke-width="1.3"/>
<line x1="268.6" y1="151.95" x2="265.70000000000005" y2="151.95" stroke="#000" stroke-width="1.3"/>
<line x1="268.6" y1="150.64" x2="265.70000000000005" y2="150.64" stroke="#000" stroke-width="1.3"/>
<line x1="268.6" y1="149.47" x2="264.3" y2="149.47" stroke="#000" stroke-width="1.4"/>
<line x1="268.6" y1="141.76" x2="265.70000000000005" y2="141.76" stroke="#000" stroke-width="1.3"/>
<line x1="268.6" y1="137.25" x2="265.70000000000005" y2="137.25" stroke="#000" stroke-width="1.3"/>
<line x1="268.6" y1="134.05" x2="265.70000000000005" y2="134.05" stroke="#000" stroke-width="1.3"/>
<line x1="268.6" y1="131.57" x2="265.70000000000005" y2="131.57" stroke="#000" stroke-width="1.3"/>
<line x1="268.6" y1="129.54" x2="265.70000000000005" y2="129.54" stroke="#000" stroke-width="1.3"/>
<line x1="268.6" y1="127.82" x2="265.70000000000005" y2="127.82" stroke="#000" stroke-width="1.3"/>
<line x1="268.6" y1="126.34" x2="265.70000000000005" y2="126.34" stroke="#000" stroke-width="1.3"/>
<line x1="268.6" y1="125.03" x2="265.70000000000005" y2="125.03" stroke="#000" stroke-width="1.3"/>
<line x1="268.6" y1="123.86" x2="264.3" y2="123.86" stroke="#000" stroke-width="1.4"/>
<line x1="268.6" y1="116.15" x2="265.70000000000005" y2="116.15" stroke="#000" stroke-width="1.3"/>
<line x1="268.6" y1="111.64" x2="265.70000000000005" y2="111.64" stroke="#000" stroke-width="1.3"/>
<line x1="268.6" y1="108.44" x2="265.70000000000005" y2="108.44" stroke="#000" stroke-width="1.3"/>
<line x1="268.6" y1="105.95" x2="265.70000000000005" y2="105.95" stroke="#000" stroke-width="1.3"/>
<line x1="268.6" y1="103.93" x2="265.70000000000005" y2="103.93" stroke="#000" stroke-width="1.3"/>
<line x1="268.6" y1="102.21" x2="265.70000000000005" y2="102.21" stroke="#000" stroke-width="1.3"/>
<line x1="268.6" y1="100.73" x2="265.70000000000005" y2="100.73" stroke="#000" stroke-width="1.3"/>
<line x1="268.6" y1="99.41" x2="265.70000000000005" y2="99.41" stroke="#000" stroke-width="1.3"/>
<line x1="268.6" y1="98.24" x2="264.3" y2="98.24" stroke="#000" stroke-width="1.4"/>
<line x1="268.6" y1="90.53" x2="265.70000000000005" y2="90.53" stroke="#000" stroke-width="1.3"/>
<line x1="268.6" y1="86.02" x2="265.70000000000005" y2="86.02" stroke="#000" stroke-width="1.3"/>
<line x1="268.6" y1="82.82" x2="265.70000000000005" y2="82.82" stroke="#000" stroke-width="1.3"/>
<line x1="268.6" y1="80.34" x2="265.70000000000005" y2="80.34" stroke="#000" stroke-width="1.3"/>
<line x1="268.6" y1="78.31" x2="265.70000000000005" y2="78.31" stroke="#000" stroke-width="1.3"/>
<line x1="268.6" y1="76.60" x2="265.70000000000005" y2="76.60" stroke="#000" stroke-width="1.3"/>
<line x1="268.6" y1="75.11" x2="265.70000000000005" y2="75.11" stroke="#000" stroke-width="1.3"/>
<line x1="268.6" y1="73.80" x2="265.70000000000005" y2="73.80" stroke="#000" stroke-width="1.3"/>
<line x1="268.6" y1="72.63" x2="264.3" y2="72.63" stroke="#000" stroke-width="1.4"/>
<line x1="268.6" y1="64.92" x2="265.70000000000005" y2="64.92" stroke="#000" stroke-width="1.3"/>
<line x1="268.6" y1="60.41" x2="265.70000000000005" y2="60.41" stroke="#000" stroke-width="1.3"/>
<line x1="268.6" y1="57.21" x2="265.70000000000005" y2="57.21" stroke="#000" stroke-width="1.3"/>
<line x1="268.6" y1="54.72" x2="265.70000000000005" y2="54.72" stroke="#000" stroke-width="1.3"/>
<line x1="268.6" y1="52.70" x2="265.70000000000005" y2="52.70" stroke="#000" stroke-width="1.3"/>
<line x1="268.6" y1="50.98" x2="265.70000000000005" y2="50.98" stroke="#000" stroke-width="1.3"/>
<line x1="268.6" y1="49.50" x2="265.70000000000005" y2="49.50" stroke="#000" stroke-width="1.3"/>
<line x1="268.6" y1="48.19" x2="265.70000000000005" y2="48.19" stroke="#000" stroke-width="1.3"/>
<line x1="268.6" y1="47.01" x2="264.3" y2="47.01" stroke="#000" stroke-width="1.4"/>
<line x1="268.6" y1="39.30" x2="265.70000000000005" y2="39.30" stroke="#000" stroke-width="1.3"/>
<line x1="268.6" y1="34.79" x2="265.70000000000005" y2="34.79" stroke="#000" stroke-width="1.3"/>
<line x1="268.6" y1="31.59" x2="265.70000000000005" y2="31.59" stroke="#000" stroke-width="1.3"/>
<line x1="268.6" y1="29.11" x2="265.70000000000005" y2="29.11" stroke="#000" stroke-width="1.3"/>
<line x1="268.6" y1="27.08" x2="265.70000000000005" y2="27.08" stroke="#000" stroke-width="1.3"/>
<line x1="268.6" y1="25.37" x2="265.70000000000005" y2="25.37" stroke="#000" stroke-width="1.3"/>
<line x1="268.6" y1="23.88" x2="265.70000000000005" y2="23.88" stroke="#000" stroke-width="1.3"/>
<line x1="268.6" y1="22.57" x2="265.70000000000005" y2="22.57" stroke="#000" stroke-width="1.3"/>
<line x1="268.6" y1="21.40" x2="264.3" y2="21.40" stroke="#000" stroke-width="1.4"/>
<line x1="413.5" y1="200.70" x2="409.5" y2="200.70" stroke="#000" stroke-width="1.4"/>
<text transform="translate(417.6,203.90) scale(1.0,1.06)" font-size="11.5" text-anchor="start" fill="#000"  stroke="#000">0</text>
<line x1="413.5" y1="185.76" x2="410.9" y2="185.76" stroke="#000" stroke-width="1.4"/>
<line x1="413.5" y1="170.82" x2="409.5" y2="170.82" stroke="#000" stroke-width="1.4"/>
<text transform="translate(417.6,174.02) scale(1.0,1.06)" font-size="11.5" text-anchor="start" fill="#000"  stroke="#000">10</text>
<line x1="413.5" y1="155.88" x2="410.9" y2="155.88" stroke="#000" stroke-width="1.4"/>
<line x1="413.5" y1="140.93" x2="409.5" y2="140.93" stroke="#000" stroke-width="1.4"/>
<text transform="translate(417.6,144.13) scale(1.0,1.06)" font-size="11.5" text-anchor="start" fill="#000"  stroke="#000">20</text>
<line x1="413.5" y1="125.99" x2="410.9" y2="125.99" stroke="#000" stroke-width="1.4"/>
<line x1="413.5" y1="111.05" x2="409.5" y2="111.05" stroke="#000" stroke-width="1.4"/>
<text transform="translate(417.6,114.25) scale(1.0,1.06)" font-size="11.5" text-anchor="start" fill="#000"  stroke="#000">30</text>
<line x1="413.5" y1="96.11" x2="410.9" y2="96.11" stroke="#000" stroke-width="1.4"/>
<line x1="413.5" y1="81.17" x2="409.5" y2="81.17" stroke="#000" stroke-width="1.4"/>
<text transform="translate(417.6,84.37) scale(1.0,1.06)" font-size="11.5" text-anchor="start" fill="#000"  stroke="#000">40</text>
<line x1="413.5" y1="66.22" x2="410.9" y2="66.22" stroke="#000" stroke-width="1.4"/>
<line x1="413.5" y1="51.28" x2="409.5" y2="51.28" stroke="#000" stroke-width="1.4"/>
<text transform="translate(417.6,54.48) scale(1.0,1.06)" font-size="11.5" text-anchor="start" fill="#000"  stroke="#000">50</text>
<line x1="413.5" y1="36.34" x2="410.9" y2="36.34" stroke="#000" stroke-width="1.4"/>
<line x1="413.5" y1="21.40" x2="409.5" y2="21.40" stroke="#000" stroke-width="1.4"/>
<text transform="translate(417.6,24.60) scale(1.0,1.06)" font-size="11.5" text-anchor="start" fill="#000"  stroke="#000">60</text>
<text transform="translate(268.60,216.0) scale(1.0,1.06)" font-size="11.0" text-anchor="middle" fill="#000"  stroke="#000">-30</text>
<text transform="translate(292.75,216.0) scale(1.0,1.06)" font-size="11.0" text-anchor="middle" fill="#000"  stroke="#000">-20</text>
<text transform="translate(316.90,216.0) scale(1.0,1.06)" font-size="11.0" text-anchor="middle" fill="#000"  stroke="#000">-10</text>
<text transform="translate(341.05,216.0) scale(1.0,1.06)" font-size="11.0" text-anchor="middle" fill="#000"  stroke="#000">0</text>
<text transform="translate(365.20,216.0) scale(1.0,1.06)" font-size="11.0" text-anchor="middle" fill="#000"  stroke="#000">10</text>
<text transform="translate(389.35,216.0) scale(1.0,1.06)" font-size="11.0" text-anchor="middle" fill="#000"  stroke="#000">20</text>
<text transform="translate(413.50,216.0) scale(1.0,1.06)" font-size="11.0" text-anchor="middle" fill="#000"  stroke="#000">30</text>
<text transform="translate(262.3,51.41) scale(1.03,1.0)" font-size="13.0" text-anchor="end" stroke="#000">10<tspan font-size="7.5" dy="-5.5">-6</tspan></text>
<text transform="translate(262.3,102.64) scale(1.03,1.0)" font-size="13.0" text-anchor="end" stroke="#000">10<tspan font-size="7.5" dy="-5.5">-8</tspan></text>
<text transform="translate(262.3,153.87) scale(1.03,1.0)" font-size="13.0" text-anchor="end" stroke="#000">10<tspan font-size="7.5" dy="-5.5">-10</tspan></text>
<text transform="translate(262.3,205.10) scale(1.03,1.0)" font-size="13.0" text-anchor="end" stroke="#000">10<tspan font-size="7.5" dy="-5.5">-12</tspan></text>
<text transform="translate(341.3,232.5) scale(1,1.08)" font-size="13.4" text-anchor="middle" stroke="#000"><tspan font-style="italic">V</tspan><tspan font-size="7.7" dy="4.5">G</tspan><tspan dy="-4.5"> (V)</tspan></text>
<text transform="translate(230.1,116.6) rotate(-90) scale(1.05,1)" font-size="13.4" text-anchor="middle" stroke="#000"><tspan font-style="italic">I</tspan><tspan font-size="8.8" dy="4.4">D</tspan><tspan dy="-4.4"> (A)</tspan></text>
<text transform="translate(445.2,177.9) rotate(-90)" font-size="10.13" text-anchor="start" stroke="#000">Linear mobility</text>
<text transform="translate(445.2,40.3) rotate(-90)" font-size="11.0" text-anchor="end" stroke="#000">(cm<tspan font-size="6.8" dy="-5.0">2</tspan><tspan dy="5.0"> V</tspan><tspan font-size="6.8" dy="-5.0">−1</tspan><tspan dy="5.0"> s</tspan><tspan font-size="6.8" dy="-5.0">−1</tspan><tspan dy="5.0">)</tspan></text>
<clipPath id="cb"><rect x="268.6" y="21.4" width="144.89999999999998" height="179.29999999999998"/></clipPath>
<g clip-path="url(#cb)" fill="none" stroke-linejoin="round">
<path d="M336.00,201.00 L335.97,200.26 L335.95,199.52 L335.93,198.79 L335.91,198.05 L335.89,197.31 L335.87,196.57 L335.85,195.83 L335.84,195.09 L335.82,194.35 L335.81,193.61 L335.80,192.87 L335.79,192.13 L335.78,191.39 L335.77,190.65 L335.77,189.91 L335.76,189.17 L335.76,188.43 L335.76,187.69 L335.76,186.95 L335.76,186.21 L335.76,185.47 L335.76,184.73 L335.77,183.99 L335.77,183.25 L335.78,182.51 L335.79,181.77 L335.79,181.02 L335.80,180.28 L335.81,179.54 L335.82,178.80 L335.83,178.06 L335.84,177.32 L335.86,176.57 L335.87,175.83 L335.89,175.09 L335.90,174.35 L335.92,173.61 L335.93,172.86 L335.95,172.12 L335.97,171.38 L335.98,170.64 L336.00,169.89 L336.02,169.15 L336.04,168.41 L336.06,167.67 L336.08,166.93 L336.10,166.18 L336.12,165.44 L336.14,164.70 L336.16,163.96 L336.19,163.21 L336.21,162.47 L336.23,161.73 L336.25,160.99 L336.27,160.25 L336.30,159.50 L336.32,158.76 L336.34,158.02 L336.36,157.28 L336.39,156.54 L336.41,155.79 L336.43,155.05 L336.45,154.31 L336.48,153.57 L336.50,152.83 L336.52,152.08 L336.54,151.34 L336.56,150.60 L336.59,149.86 L336.61,149.12 L336.63,148.38 L336.65,147.64 L336.67,146.90 L336.69,146.16 L336.71,145.41 L336.72,144.67 L336.74,143.93 L336.76,143.19 L336.78,142.45 L336.79,141.71 L336.81,140.97 L336.82,140.23 L336.84,139.49 L336.85,138.75 L336.86,138.01 L336.88,137.28 L336.89,136.54 L336.90,135.80 L336.91,135.06 L336.92,134.32 L336.93,133.58 L336.93,132.84 L336.94,132.11 L336.94,131.37 L336.95,130.63 L336.95,129.89 L336.95,129.16 L336.95,128.42 L336.95,127.68 L336.95,126.95 L336.95,126.21 L336.94,125.47 L336.94,124.74 L336.94,124.00 L336.93,123.27 L336.92,122.53 L336.92,121.79 L336.91,121.06 L336.90,120.32 L336.89,119.59 L336.89,118.85 L336.88,118.12 L336.87,117.38 L336.86,116.65 L336.85,115.91 L336.85,115.18 L336.84,114.44 L336.83,113.71 L336.83,112.97 L336.82,112.23 L336.82,111.50 L336.81,110.76 L336.81,110.03 L336.81,109.29 L336.81,108.55 L336.81,107.82 L336.81,107.08 L336.81,106.34 L336.82,105.60 L336.82,104.87 L336.83,104.13 L336.84,103.39 L336.85,102.65 L336.86,101.91 L336.88,101.17 L336.90,100.43 L336.91,99.69 L336.94,98.95 L336.96,98.21 L336.99,97.47 L337.01,96.73 L337.05,95.98 L337.08,95.24 L337.12,94.50 L337.16,93.75 L337.20,93.01 L337.24,92.26 L337.29,91.52 L337.34,90.77 L337.40,90.03 L337.46,89.28 L337.52,88.53 L337.58,87.78 L337.65,87.03 L337.73,86.28 L337.80,85.53 L337.88,84.78 L337.97,84.03 L338.06,83.27 L338.15,82.52 L338.25,81.77 L338.35,81.01 L338.46,80.26 L338.57,79.51 L338.69,78.76 L338.81,78.01 L338.94,77.26 L339.07,76.51 L339.21,75.76 L339.35,75.02 L339.50,74.28 L339.66,73.54 L339.82,72.80 L340.00,72.07 L340.17,71.33 L340.36,70.60 L340.55,69.88 L340.74,69.16 L340.95,68.44 L341.16,67.72 L341.38,67.02 L341.61,66.31 L341.85,65.61 L342.09,64.91 L342.34,64.22 L342.61,63.54 L342.87,62.86 L343.15,62.18 L343.44,61.51 L343.74,60.85 L344.04,60.20 L344.36,59.55 L344.68,58.90 L345.02,58.27 L345.36,57.64 L345.72,57.02 L346.08,56.41 L346.45,55.80 L346.84,55.20 L347.24,54.62 L347.64,54.04 L348.06,53.46 L348.49,52.90 L348.93,52.35 L349.38,51.80 L349.85,51.27 L350.32,50.74 L350.81,50.23 L351.30,49.72 L351.81,49.23 L352.33,48.74 L352.86,48.26 L353.40,47.79 L353.95,47.33 L354.51,46.88 L355.07,46.43 L355.65,46.00 L356.23,45.57 L356.83,45.15 L357.43,44.74 L358.04,44.34 L358.65,43.95 L359.28,43.56 L359.91,43.18 L360.55,42.81 L361.20,42.44 L361.85,42.09 L362.51,41.74 L363.17,41.39 L363.84,41.06 L364.51,40.73 L365.19,40.41 L365.88,40.09 L366.57,39.78 L367.26,39.48 L367.96,39.18 L368.66,38.89 L369.37,38.61 L370.08,38.33 L370.79,38.06 L371.51,37.79 L372.22,37.53 L372.94,37.27 L373.67,37.02 L374.39,36.78 L375.11,36.54 L375.84,36.30 L376.57,36.07 L377.30,35.85 L378.03,35.63 L378.76,35.41 L379.49,35.20 L380.22,34.99 L380.95,34.79 L381.67,34.59 L382.40,34.39 L383.13,34.20 L383.86,34.01 L384.58,33.83 L385.31,33.65 L386.04,33.47 L386.76,33.29 L387.49,33.12 L388.21,32.95 L388.94,32.78 L389.66,32.61 L390.38,32.45 L391.11,32.28 L391.83,32.12 L392.55,31.96 L393.27,31.80 L393.99,31.64 L394.71,31.49 L395.43,31.33 L396.15,31.17 L396.87,31.02 L397.59,30.86 L398.31,30.70 L399.03,30.55 L399.74,30.39 L400.46,30.23 L401.18,30.08 L401.89,29.92 L402.61,29.76 L403.32,29.60 L404.04,29.43 L404.75,29.27 L405.47,29.10 L406.18,28.93 L406.89,28.76 L407.61,28.59 L408.32,28.41 L409.03,28.24 L409.74,28.06 L410.45,27.87 L411.16,27.68 L411.88,27.49 L412.59,27.30 L413.29,27.10" stroke="#86d890" stroke-width="1.1"/>
<path d="M339.29,201.00 L339.32,200.27 L339.34,199.54 L339.36,198.81 L339.38,198.08 L339.40,197.35 L339.42,196.62 L339.44,195.89 L339.46,195.16 L339.47,194.43 L339.49,193.71 L339.50,192.98 L339.52,192.25 L339.53,191.52 L339.54,190.79 L339.55,190.06 L339.56,189.33 L339.57,188.61 L339.58,187.88 L339.59,187.15 L339.60,186.42 L339.61,185.69 L339.61,184.97 L339.62,184.24 L339.62,183.51 L339.63,182.79 L339.63,182.06 L339.63,181.33 L339.64,180.60 L339.64,179.88 L339.64,179.15 L339.64,178.42 L339.64,177.70 L339.64,176.97 L339.64,176.24 L339.64,175.52 L339.64,174.79 L339.64,174.07 L339.64,173.34 L339.64,172.61 L339.63,171.89 L339.63,171.16 L339.63,170.44 L339.63,169.71 L339.62,168.98 L339.62,168.26 L339.61,167.53 L339.61,166.81 L339.61,166.08 L339.60,165.36 L339.60,164.63 L339.59,163.91 L339.59,163.18 L339.58,162.46 L339.58,161.73 L339.57,161.01 L339.56,160.28 L339.56,159.56 L339.55,158.83 L339.55,158.11 L339.54,157.38 L339.54,156.66 L339.53,155.93 L339.53,155.21 L339.52,154.48 L339.52,153.76 L339.51,153.03 L339.51,152.31 L339.50,151.58 L339.50,150.86 L339.49,150.13 L339.49,149.41 L339.49,148.68 L339.48,147.96 L339.48,147.23 L339.48,146.51 L339.48,145.79 L339.47,145.06 L339.47,144.34 L339.47,143.61 L339.47,142.89 L339.47,142.16 L339.47,141.44 L339.47,140.71 L339.47,139.99 L339.47,139.26 L339.47,138.54 L339.47,137.81 L339.47,137.09 L339.48,136.37 L339.48,135.64 L339.49,134.92 L339.49,134.19 L339.50,133.47 L339.50,132.74 L339.51,132.02 L339.52,131.29 L339.52,130.57 L339.53,129.84 L339.54,129.12 L339.55,128.39 L339.56,127.67 L339.57,126.94 L339.59,126.22 L339.60,125.49 L339.61,124.77 L339.63,124.04 L339.64,123.32 L339.66,122.59 L339.68,121.87 L339.70,121.14 L339.72,120.41 L339.74,119.69 L339.76,118.96 L339.78,118.24 L339.80,117.51 L339.83,116.79 L339.85,116.06 L339.88,115.33 L339.91,114.61 L339.94,113.88 L339.97,113.16 L340.00,112.43 L340.03,111.70 L340.06,110.98 L340.10,110.25 L340.13,109.52 L340.17,108.80 L340.21,108.07 L340.24,107.34 L340.28,106.62 L340.33,105.89 L340.37,105.16 L340.41,104.43 L340.46,103.71 L340.51,102.98 L340.56,102.25 L340.60,101.52 L340.66,100.80 L340.71,100.07 L340.76,99.34 L340.82,98.61 L340.88,97.88 L340.93,97.16 L340.99,96.43 L341.06,95.70 L341.12,94.97 L341.18,94.24 L341.25,93.51 L341.32,92.78 L341.39,92.05 L341.46,91.33 L341.53,90.60 L341.61,89.87 L341.68,89.14 L341.76,88.41 L341.84,87.68 L341.92,86.95 L342.00,86.22 L342.09,85.49 L342.18,84.75 L342.26,84.02 L342.36,83.29 L342.45,82.56 L342.54,81.83 L342.64,81.10 L342.74,80.37 L342.85,79.65 L342.96,78.92 L343.07,78.19 L343.19,77.47 L343.31,76.75 L343.43,76.02 L343.56,75.31 L343.70,74.59 L343.84,73.87 L343.98,73.16 L344.14,72.45 L344.29,71.74 L344.46,71.04 L344.63,70.34 L344.81,69.64 L345.00,68.95 L345.19,68.26 L345.39,67.57 L345.60,66.89 L345.82,66.21 L346.04,65.54 L346.28,64.87 L346.52,64.20 L346.77,63.54 L347.03,62.89 L347.31,62.24 L347.59,61.59 L347.88,60.95 L348.18,60.32 L348.50,59.69 L348.82,59.07 L349.16,58.46 L349.50,57.85 L349.86,57.25 L350.23,56.65 L350.62,56.07 L351.01,55.48 L351.42,54.91 L351.84,54.35 L352.28,53.79 L352.73,53.24 L353.19,52.69 L353.66,52.16 L354.14,51.63 L354.63,51.11 L355.14,50.59 L355.65,50.08 L356.18,49.58 L356.71,49.09 L357.25,48.61 L357.81,48.13 L358.37,47.66 L358.94,47.19 L359.52,46.74 L360.10,46.29 L360.70,45.85 L361.30,45.41 L361.90,44.98 L362.52,44.56 L363.14,44.15 L363.76,43.74 L364.39,43.34 L365.03,42.95 L365.67,42.56 L366.31,42.18 L366.96,41.81 L367.62,41.45 L368.27,41.09 L368.93,40.74 L369.59,40.39 L370.26,40.05 L370.93,39.72 L371.59,39.40 L372.26,39.08 L372.93,38.77 L373.61,38.46 L374.28,38.17 L374.96,37.87 L375.63,37.59 L376.31,37.31 L376.99,37.03 L377.66,36.77 L378.34,36.50 L379.02,36.25 L379.71,35.99 L380.39,35.75 L381.07,35.50 L381.76,35.27 L382.44,35.04 L383.13,34.81 L383.82,34.58 L384.51,34.36 L385.20,34.15 L385.89,33.94 L386.58,33.73 L387.27,33.53 L387.96,33.33 L388.66,33.13 L389.35,32.94 L390.04,32.75 L390.74,32.56 L391.44,32.38 L392.13,32.20 L392.83,32.02 L393.53,31.84 L394.23,31.67 L394.93,31.49 L395.63,31.32 L396.33,31.15 L397.03,30.99 L397.73,30.82 L398.44,30.66 L399.14,30.50 L399.84,30.34 L400.55,30.18 L401.25,30.02 L401.96,29.86 L402.67,29.70 L403.37,29.54 L404.08,29.39 L404.79,29.23 L405.49,29.07 L406.20,28.91 L406.91,28.76 L407.62,28.60 L408.33,28.44 L409.04,28.28 L409.75,28.12 L410.46,27.96 L411.17,27.80 L411.88,27.63 L412.59,27.47 L413.30,27.30" stroke="#f02828" stroke-width="1.4"/>
<path d="M340.33,201.00 L340.31,200.36 L340.29,199.73 L340.27,199.09 L340.26,198.46 L340.24,197.82 L340.23,197.18 L340.22,196.55 L340.21,195.91 L340.20,195.27 L340.19,194.63 L340.18,194.00 L340.17,193.36 L340.17,192.72 L340.16,192.08 L340.16,191.44 L340.16,190.80 L340.16,190.16 L340.16,189.52 L340.16,188.88 L340.16,188.24 L340.17,187.60 L340.18,186.96 L340.18,186.32 L340.19,185.68 L340.20,185.04 L340.21,184.40 L340.22,183.76 L340.24,183.12 L340.25,182.48 L340.27,181.84 L340.29,181.20 L340.31,180.56 L340.33,179.92 L340.35,179.28 L340.37,178.63 L340.40,177.99 L340.42,177.35 L340.45,176.71 L340.48,176.07 L340.51,175.43 L340.54,174.79 L340.57,174.15 L340.61,173.50 L340.64,172.86 L340.68,172.22 L340.72,171.58 L340.76,170.94 L340.80,170.30 L340.84,169.66 L340.89,169.02 L340.93,168.38 L340.98,167.73 L341.03,167.09 L341.08,166.45 L341.13,165.81 L341.19,165.17 L341.24,164.53 L341.30,163.89 L341.36,163.25 L341.42,162.61 L341.48,161.97 L341.54,161.34 L341.61,160.70 L341.67,160.06 L341.74,159.42 L341.81,158.78 L341.88,158.14 L341.95,157.50 L342.03,156.87 L342.10,156.23 L342.18,155.59 L342.26,154.95 L342.34,154.32 L342.42,153.68 L342.51,153.04 L342.60,152.41 L342.68,151.77 L342.77,151.14 L342.86,150.50 L342.96,149.87 L343.05,149.23 L343.15,148.60 L343.24,147.97 L343.34,147.33 L343.45,146.70 L343.55,146.07 L343.65,145.43 L343.76,144.80 L343.87,144.17 L343.98,143.54 L344.09,142.91 L344.20,142.28 L344.32,141.65 L344.44,141.02 L344.56,140.39 L344.68,139.76 L344.80,139.14 L344.93,138.51 L345.05,137.88 L345.18,137.25 L345.31,136.63 L345.44,136.00 L345.58,135.38 L345.71,134.75 L345.85,134.13 L345.99,133.51 L346.13,132.88 L346.28,132.26 L346.42,131.64 L346.57,131.02 L346.72,130.40 L346.87,129.78 L347.03,129.16 L347.18,128.54 L347.34,127.92 L347.50,127.30 L347.66,126.69 L347.82,126.07 L347.99,125.45 L348.15,124.84 L348.32,124.22 L348.50,123.61 L348.67,123.00 L348.84,122.38 L349.02,121.77 L349.20,121.16 L349.38,120.55 L349.57,119.94 L349.75,119.33 L349.94,118.72 L350.13,118.12 L350.32,117.51 L350.52,116.90 L350.71,116.30 L350.91,115.69 L351.11,115.09 L351.31,114.49 L351.52,113.89 L351.73,113.28 L351.94,112.68 L352.15,112.08 L352.36,111.49 L352.58,110.89 L352.79,110.29 L353.01,109.69 L353.24,109.10 L353.46,108.50 L353.69,107.91 L353.92,107.32 L354.15,106.73 L354.38,106.14 L354.62,105.55 L354.85,104.96 L355.10,104.37 L355.34,103.78 L355.58,103.19 L355.83,102.61 L356.08,102.02 L356.33,101.44 L356.58,100.86 L356.84,100.28 L357.10,99.70 L357.36,99.12 L357.62,98.54 L357.89,97.96 L358.15,97.38 L358.42,96.81 L358.70,96.23 L358.97,95.66 L359.25,95.09 L359.53,94.52 L359.81,93.95 L360.09,93.38 L360.38,92.81 L360.66,92.25 L360.95,91.68 L361.24,91.12 L361.54,90.55 L361.84,89.99 L362.13,89.43 L362.44,88.87 L362.74,88.31 L363.04,87.76 L363.35,87.20 L363.66,86.64 L363.97,86.09 L364.29,85.54 L364.60,84.99 L364.92,84.44 L365.24,83.89 L365.57,83.34 L365.89,82.80 L366.22,82.25 L366.55,81.71 L366.88,81.17 L367.21,80.63 L367.55,80.09 L367.89,79.55 L368.23,79.02 L368.57,78.48 L368.92,77.95 L369.26,77.42 L369.61,76.89 L369.96,76.36 L370.32,75.83 L370.67,75.30 L371.03,74.78 L371.39,74.26 L371.75,73.73 L372.12,73.21 L372.49,72.70 L372.85,72.18 L373.22,71.66 L373.60,71.15 L373.97,70.64 L374.35,70.12 L374.73,69.62 L375.11,69.11 L375.49,68.60 L375.88,68.10 L376.27,67.59 L376.66,67.09 L377.05,66.59 L377.44,66.09 L377.84,65.60 L378.24,65.10 L378.64,64.61 L379.04,64.12 L379.45,63.63 L379.85,63.14 L380.26,62.65 L380.67,62.17 L381.09,61.69 L381.50,61.21 L381.92,60.73 L382.34,60.25 L382.76,59.77 L383.19,59.30 L383.61,58.83 L384.04,58.36 L384.47,57.89 L384.90,57.42 L385.34,56.96 L385.77,56.49 L386.21,56.03 L386.65,55.57 L387.09,55.12 L387.54,54.66 L387.98,54.21 L388.43,53.75 L388.88,53.30 L389.34,52.86 L389.79,52.41 L390.25,51.97 L390.71,51.53 L391.17,51.09 L391.63,50.65 L392.10,50.21 L392.56,49.78 L393.03,49.35 L393.50,48.92 L393.98,48.49 L394.45,48.06 L394.93,47.64 L395.41,47.22 L395.89,46.80 L396.37,46.38 L396.86,45.96 L397.35,45.55 L397.84,45.14 L398.33,44.73 L398.82,44.32 L399.32,43.92 L399.81,43.51 L400.31,43.11 L400.82,42.72 L401.32,42.32 L401.82,41.93 L402.33,41.53 L402.84,41.14 L403.35,40.76 L403.87,40.37 L404.38,39.99 L404.90,39.61 L405.42,39.23 L405.94,38.85 L406.46,38.48 L406.99,38.11 L407.52,37.74 L408.05,37.37 L408.58,37.01 L409.11,36.65 L409.65,36.29 L410.18,35.93 L410.72,35.58 L411.26,35.22 L411.81,34.87 L412.35,34.53 L412.90,34.18" stroke="#f02828" stroke-width="1.2" stroke-dasharray="1.2 1.5"/>
<path d="M337.16,200.88 L337.23,199.92 L337.30,198.97 L337.37,198.01 L337.43,197.05 L337.49,196.08 L337.54,195.11 L337.59,194.14 L337.64,193.17 L337.68,192.19 L337.72,191.22 L337.76,190.24 L337.79,189.25 L337.82,188.27 L337.85,187.28 L337.87,186.29 L337.90,185.30 L337.92,184.31 L337.94,183.32 L337.96,182.32 L337.97,181.32 L337.99,180.32 L338.00,179.32 L338.02,178.32 L338.03,177.31 L338.04,176.31 L338.05,175.30 L338.06,174.30 L338.07,173.29 L338.09,172.28 L338.10,171.27 L338.11,170.26 L338.12,169.25 L338.14,168.23 L338.15,167.22 L338.17,166.21 L338.19,165.20 L338.20,164.18 L338.23,163.17 L338.25,162.15 L338.27,161.14 L338.30,160.12 L338.33,159.11 L338.36,158.10 L338.40,157.08 L338.44,156.07 L338.48,155.06 L338.52,154.04 L338.57,153.03 L338.62,152.02 L338.68,151.01 L338.74,150.00 L338.80,148.99 L338.87,147.98 L338.95,146.98 L339.03,145.97 L339.11,144.97 L339.20,143.96 L339.29,142.96 L339.39,141.96 L339.50,140.96 L339.61,139.96 L339.73,138.97 L339.85,137.97 L339.98,136.98 L340.12,135.99 L340.26,135.00 L340.41,134.02 L340.57,133.03 L340.73,132.05 L340.91,131.07 L341.09,130.09 L341.28,129.12 L341.47,128.15 L341.68,127.18 L341.89,126.21 L342.11,125.24 L342.34,124.28 L342.58,123.32 L342.83,122.37 L343.09,121.42 L343.36,120.47 L343.63,119.52 L343.92,118.58 L344.22,117.64 L344.52,116.70 L344.84,115.77 L345.17,114.84 L345.51,113.92 L345.86,113.00 L346.22,112.08 L346.59,111.17 L346.98,110.26 L347.37,109.35 L347.78,108.45 L348.20,107.56 L348.64,106.67 L349.08,105.79 L349.54,104.91 L350.02,104.05 L350.51,103.19 L351.02,102.34 L351.54,101.50 L352.08,100.67 L352.64,99.85 L353.22,99.05 L353.81,98.25 L354.42,97.47 L355.06,96.71 L355.71,95.96 L356.38,95.22 L357.07,94.50 L357.79,93.80 L358.53,93.11 L359.28,92.44 L360.07,91.79 L360.87,91.16 L361.70,90.55 L362.56,89.96 L363.43,89.39 L363.90,90.59 L364.32,89.02 L364.74,89.02 L365.16,89.10 L365.58,87.72 L366.00,88.23 L366.42,87.80 L366.84,85.52 L367.26,89.15 L367.68,88.72 L368.10,86.32 L368.52,86.81 L368.94,87.80 L369.36,86.37 L369.78,85.66 L370.20,83.74 L370.62,86.90 L371.04,86.51 L371.46,85.97 L371.88,83.25 L372.30,88.35 L372.72,86.11 L373.14,85.23 L373.56,89.14 L373.98,85.24 L374.40,82.02 L374.82,83.02 L375.24,80.44 L375.66,86.08 L376.08,83.93 L376.50,83.27 L376.92,85.96 L377.34,81.48 L377.76,84.26 L378.18,79.85 L378.60,81.69 L379.02,81.73 L379.44,87.21 L379.86,87.96 L380.28,83.92 L380.70,85.41 L381.12,83.81 L381.54,84.65 L381.96,81.68 L382.38,79.08 L382.80,79.24 L383.22,84.62 L383.64,88.82 L384.06,84.76 L384.48,83.12 L384.90,87.79 L385.32,84.76 L385.74,83.59 L386.16,82.17 L386.58,82.70 L387.00,78.89 L387.42,75.75 L387.84,83.20 L388.26,75.99 L388.68,81.72 L389.10,79.05 L389.52,66.44 L389.94,80.67 L390.36,82.13 L390.78,75.40 L391.20,79.60 L391.62,74.65 L392.04,77.08 L392.46,80.92 L392.88,78.62 L393.30,86.32 L393.72,82.96 L394.14,83.81 L394.56,87.61 L394.98,87.62 L395.40,83.97 L395.82,85.77 L396.24,87.57 L396.66,85.35 L397.08,82.09 L397.50,87.45 L397.92,88.11 L398.34,85.47 L398.76,80.98 L399.18,81.81 L399.60,82.97 L400.02,88.17 L400.44,96.81 L400.86,98.73 L401.28,92.45 L401.70,87.92 L402.12,85.18 L402.54,83.22 L402.96,82.48 L403.38,79.80 L403.80,81.03 L404.22,86.14 L404.64,81.51 L405.06,78.61 L405.48,78.83 L405.90,79.47 L406.32,83.90 L406.74,83.69 L407.16,76.96 L407.58,99.33 L408.00,70.45 L408.42,102.41 L408.84,72.61 L409.26,104.32 L409.68,73.36 L410.10,100.46 L410.52,70.42 L410.94,102.08 L411.36,73.49 L411.78,89.56 L412.20,85.34 L412.62,88.94 L413.04,85.18" stroke="#7ad088" stroke-width="1.15" stroke-dasharray="1.2 1.3"/>
</g>
<line x1="271" y1="44.6" x2="296.4" y2="44.6" stroke="#92d99c" stroke-width="1.2"/>
<line x1="271" y1="59.4" x2="296.4" y2="59.4" stroke="#f02828" stroke-width="1.3"/>
<text transform="translate(300.2,48.9) scale(1.0,1.06)" font-size="11.7" text-anchor="start" fill="#000"  stroke="#000">a-ZSO</text>
<text transform="translate(300.2,63.5) scale(1,1.06)" font-size="11.7" text-anchor="start" stroke="#000">a-GaO<tspan font-size="7.4" dy="3.2">x</tspan></text>
<path d="M335,74.9 L317,74.9" stroke="#000" stroke-width="1.2"/><path d="M312.4,74.9 L319.4,72.3 L319.4,77.5 Z" fill="#000"/>
<path d="M365.4,101 L381,101" stroke="#000" stroke-width="1.2"/><path d="M385.8,101 L378.8,98.4 L378.8,103.6 Z" fill="#000"/>
<path d="M277.3,155.6 L277.3,137.4 L287.3,137.4 L290.9,129.6 L299.3,129.6 L299.8,140.1 L306.1,140.1 L306.6,129.6 L315.2,129.6 L318.8,137.4 L327.8,137.4 L327.8,155.6 Z" fill="#fdb913"/>
<path d="M286.3,155.6 L290,145.6 L315.9,145.6 L320.1,155.6 Z" fill="#3f8ae0"/>
<rect x="272.7" y="155.6" width="59.80000000000001" height="9.800000000000011" fill="#a3a3a3"/>
<path d="M290,145.6 L293.6,140.1 L312.8,140.1 L315.9,145.6 Z" fill="#7fdc9c"/>
<text transform="translate(294.8,138.6) scale(1.0,1.06)" font-size="10.0" text-anchor="middle" fill="#fff"  stroke="#fff">S</text>
<text transform="translate(310.8,138.6) scale(1.0,1.06)" font-size="10.0" text-anchor="middle" fill="#fff"  stroke="#fff">D</text>
<text transform="translate(302.5,154.8) scale(1.0,1.06)" font-size="9.7" text-anchor="middle" fill="#fff"  stroke="#fff">ITZO</text>
<text transform="translate(301.9,164.3) scale(1,1.06)" font-size="9.7" text-anchor="middle" fill="#fff" stroke="#fff">Si/SiO<tspan font-size="5.8" dy="2.0">2</tspan></text>
<text transform="translate(303,119.7) scale(1.0,1.06)" font-size="9.6" text-anchor="middle" fill="#7ad68e"  stroke="#7ad68e">a-ZSO</text>
<path d="M302.7,123 L302.7,131" stroke="#7ad68e" stroke-width="1.1"/><path d="M302.7,134.2 L300.7,129.8 L304.7,129.8 Z" fill="#7ad68e"/>
<path d="M352.3,156.3 L352.3,143 L360.0,143 L363.6,132.8 L372.8,132.8 L372.8,144.7 L384.0,144.7 L384.0,132.8 L393.0,132.8 L396.4,143 L404.1,143 L404.1,156.3 Z" fill="#fdb913"/>
<path d="M361.6,156.3 L366.8,144.7 L390.2,144.7 L394.8,156.3 Z" fill="#3f8ae0"/>
<rect x="349.6" y="156.3" width="57.19999999999999" height="11.0" fill="#a3a3a3"/>
<rect x="372.8" y="138.3" width="11.2" height="6.4" fill="#f02828"/>
<text transform="translate(367.9,142.6) scale(1.0,1.06)" font-size="10.0" text-anchor="middle" fill="#fff"  stroke="#fff">S</text>
<text transform="translate(389.0,142.6) scale(1.0,1.06)" font-size="10.0" text-anchor="middle" fill="#fff"  stroke="#fff">D</text>
<text transform="translate(378.0,154.0) scale(1.0,1.06)" font-size="9.7" text-anchor="middle" fill="#fff"  stroke="#fff">ITZO</text>
<text transform="translate(378.0,165.2) scale(1,1.06)" font-size="9.7" text-anchor="middle" fill="#fff" stroke="#fff">Si/SiO<tspan font-size="5.8" dy="2.0">2</tspan></text>
<text transform="translate(362.6,122.2) scale(1,1.06)" font-size="9.8" text-anchor="start" fill="#f02828" stroke="#f02828">a-GaO<tspan font-size="6.6" dy="2.4">x</tspan></text>
<path d="M378.5,124 L378.5,133" stroke="#f02828" stroke-width="1.1"/><path d="M378.5,136.6 L376.4,132.0 L380.6,132.0 Z" fill="#f02828"/>
<text transform="translate(348.6,190.0) scale(1,1.08)" font-size="13.4" text-anchor="start" font-style="italic" stroke="#000">V</text><text transform="translate(358.0,195.0) scale(1,1.05)" font-size="8" text-anchor="start" stroke="#000">D</text><text transform="translate(407.90000000000003,190.0) scale(1,1.08)" font-size="13.4" text-anchor="end" stroke="#000">= 0.1 V</text>
</svg>
</body></html>
